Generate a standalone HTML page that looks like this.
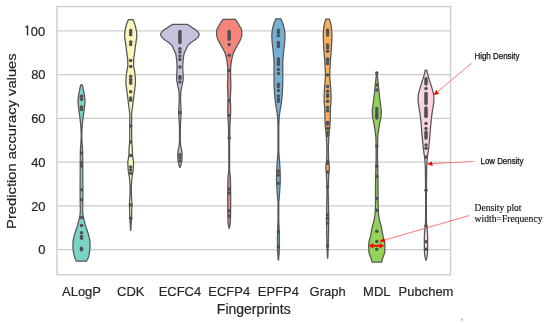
<!DOCTYPE html><html><head><meta charset="utf-8"><style>html,body{margin:0;padding:0;background:#fff;width:550px;height:324px;overflow:hidden}svg{display:block}</style></head><body>
<svg width="550" height="324" viewBox="0 0 550 324">
<rect x="0" y="0" width="550" height="324" fill="#fff"/>
<line x1="56.9" y1="249.60" x2="450.6" y2="249.60" stroke="#cccccc" stroke-width="1.3"/>
<line x1="56.9" y1="205.86" x2="450.6" y2="205.86" stroke="#cccccc" stroke-width="1.3"/>
<line x1="56.9" y1="162.12" x2="450.6" y2="162.12" stroke="#cccccc" stroke-width="1.3"/>
<line x1="56.9" y1="118.38" x2="450.6" y2="118.38" stroke="#cccccc" stroke-width="1.3"/>
<line x1="56.9" y1="74.64" x2="450.6" y2="74.64" stroke="#cccccc" stroke-width="1.3"/>
<line x1="56.9" y1="30.90" x2="450.6" y2="30.90" stroke="#cccccc" stroke-width="1.3"/>
<rect x="56.9" y="6.6" width="393.70" height="268.10" fill="none" stroke="#cccccc" stroke-width="1.4"/>
<path d="M82.28,84.80 L82.43,85.47 L82.58,86.13 L82.72,86.80 L82.86,87.46 L83.00,88.13 L83.14,88.79 L83.27,89.46 L83.40,90.13 L83.54,90.79 L83.67,91.46 L83.81,92.12 L83.94,92.79 L84.07,93.45 L84.19,94.12 L84.30,94.78 L84.40,95.45 L84.50,96.12 L84.59,96.78 L84.68,97.45 L84.77,98.11 L84.85,98.78 L84.91,99.44 L84.96,100.11 L84.98,100.78 L84.97,101.44 L84.95,102.11 L84.91,102.77 L84.86,103.44 L84.80,104.10 L84.74,104.77 L84.66,105.44 L84.59,106.10 L84.51,106.77 L84.44,107.43 L84.37,108.10 L84.30,108.76 L84.22,109.43 L84.14,110.10 L84.05,110.76 L83.96,111.43 L83.87,112.09 L83.77,112.76 L83.67,113.42 L83.58,114.09 L83.48,114.75 L83.39,115.42 L83.29,116.09 L83.21,116.75 L83.12,117.42 L83.04,118.08 L82.96,118.75 L82.89,119.41 L82.81,120.08 L82.74,120.75 L82.66,121.41 L82.59,122.08 L82.52,122.74 L82.45,123.41 L82.38,124.07 L82.32,124.74 L82.26,125.41 L82.21,126.07 L82.16,126.74 L82.11,127.40 L82.08,128.07 L82.04,128.73 L82.01,129.40 L81.98,130.06 L81.94,130.73 L81.91,131.40 L81.89,132.06 L81.87,132.73 L81.85,133.39 L81.84,134.06 L81.83,134.72 L81.83,135.39 L81.84,136.06 L81.85,136.72 L81.86,137.39 L81.88,138.05 L81.90,138.72 L81.93,139.38 L81.95,140.05 L81.98,140.72 L82.01,141.38 L82.04,142.05 L82.07,142.71 L82.10,143.38 L82.14,144.04 L82.19,144.71 L82.25,145.38 L82.31,146.04 L82.37,146.71 L82.43,147.37 L82.48,148.04 L82.53,148.70 L82.56,149.37 L82.58,150.03 L82.59,150.70 L82.61,151.37 L82.62,152.03 L82.63,152.70 L82.64,153.36 L82.65,154.03 L82.66,154.69 L82.67,155.36 L82.67,156.03 L82.68,156.69 L82.69,157.36 L82.70,158.02 L82.70,158.69 L82.71,159.35 L82.71,160.02 L82.72,160.69 L82.72,161.35 L82.73,162.02 L82.73,162.68 L82.74,163.35 L82.74,164.01 L82.75,164.68 L82.75,165.34 L82.75,166.01 L82.76,166.68 L82.76,167.34 L82.77,168.01 L82.77,168.67 L82.78,169.34 L82.78,170.00 L82.78,170.67 L82.79,171.34 L82.79,172.00 L82.80,172.67 L82.80,173.33 L82.81,174.00 L82.81,174.66 L82.82,175.33 L82.82,176.00 L82.83,176.66 L82.83,177.33 L82.83,177.99 L82.84,178.66 L82.84,179.32 L82.85,179.99 L82.85,180.66 L82.85,181.32 L82.86,181.99 L82.86,182.65 L82.86,183.32 L82.87,183.98 L82.87,184.65 L82.87,185.31 L82.87,185.98 L82.88,186.65 L82.88,187.31 L82.88,187.98 L82.88,188.64 L82.88,189.31 L82.88,189.97 L82.88,190.64 L82.88,191.31 L82.88,191.97 L82.88,192.64 L82.87,193.30 L82.87,193.97 L82.87,194.63 L82.86,195.30 L82.86,195.97 L82.85,196.63 L82.85,197.30 L82.85,197.96 L82.84,198.63 L82.84,199.29 L82.83,199.96 L82.82,200.62 L82.82,201.29 L82.81,201.96 L82.79,202.62 L82.78,203.29 L82.77,203.95 L82.75,204.62 L82.74,205.28 L82.73,205.95 L82.71,206.62 L82.70,207.28 L82.69,207.95 L82.69,208.61 L82.68,209.28 L82.68,209.94 L82.69,210.61 L82.71,211.28 L82.75,211.94 L82.80,212.61 L82.86,213.27 L82.93,213.94 L83.01,214.60 L83.09,215.27 L83.17,215.94 L83.27,216.60 L83.40,217.27 L83.56,217.93 L83.73,218.60 L83.91,219.26 L84.10,219.93 L84.28,220.59 L84.44,221.26 L84.61,221.93 L84.77,222.59 L84.94,223.26 L85.10,223.92 L85.28,224.59 L85.45,225.25 L85.64,225.92 L85.84,226.59 L86.05,227.25 L86.28,227.92 L86.53,228.58 L86.77,229.25 L87.01,229.91 L87.24,230.58 L87.46,231.25 L87.67,231.91 L87.87,232.58 L88.08,233.24 L88.27,233.91 L88.47,234.57 L88.65,235.24 L88.82,235.90 L88.97,236.57 L89.13,237.24 L89.28,237.90 L89.44,238.57 L89.59,239.23 L89.72,239.90 L89.84,240.56 L89.92,241.23 L89.98,241.90 L90.00,242.56 L90.03,243.23 L90.05,243.89 L90.06,244.56 L90.08,245.22 L90.08,245.89 L90.07,246.56 L90.04,247.22 L89.99,247.89 L89.93,248.55 L89.86,249.22 L89.79,249.88 L89.72,250.55 L89.64,251.22 L89.54,251.88 L89.43,252.55 L89.32,253.21 L89.19,253.88 L89.06,254.54 L88.91,255.21 L88.74,255.87 L88.56,256.54 L88.35,257.21 L88.12,257.87 L87.87,258.54 L87.58,259.20 L87.24,259.87 L86.88,260.53 L86.48,261.20 L76.52,261.20 L76.12,260.53 L75.76,259.87 L75.42,259.20 L75.13,258.54 L74.88,257.87 L74.65,257.21 L74.44,256.54 L74.26,255.87 L74.09,255.21 L73.94,254.54 L73.81,253.88 L73.68,253.21 L73.57,252.55 L73.46,251.88 L73.36,251.22 L73.28,250.55 L73.21,249.88 L73.14,249.22 L73.07,248.55 L73.01,247.89 L72.96,247.22 L72.93,246.56 L72.92,245.89 L72.92,245.22 L72.94,244.56 L72.95,243.89 L72.97,243.23 L73.00,242.56 L73.02,241.90 L73.08,241.23 L73.16,240.56 L73.28,239.90 L73.41,239.23 L73.56,238.57 L73.72,237.90 L73.87,237.24 L74.03,236.57 L74.18,235.90 L74.35,235.24 L74.53,234.57 L74.73,233.91 L74.92,233.24 L75.13,232.58 L75.33,231.91 L75.54,231.25 L75.76,230.58 L75.99,229.91 L76.23,229.25 L76.47,228.58 L76.72,227.92 L76.95,227.25 L77.16,226.59 L77.36,225.92 L77.55,225.25 L77.72,224.59 L77.90,223.92 L78.06,223.26 L78.23,222.59 L78.39,221.93 L78.56,221.26 L78.72,220.59 L78.90,219.93 L79.09,219.26 L79.27,218.60 L79.44,217.93 L79.60,217.27 L79.73,216.60 L79.83,215.94 L79.91,215.27 L79.99,214.60 L80.07,213.94 L80.14,213.27 L80.20,212.61 L80.25,211.94 L80.29,211.28 L80.31,210.61 L80.32,209.94 L80.32,209.28 L80.31,208.61 L80.31,207.95 L80.30,207.28 L80.29,206.62 L80.27,205.95 L80.26,205.28 L80.25,204.62 L80.23,203.95 L80.22,203.29 L80.21,202.62 L80.19,201.96 L80.18,201.29 L80.18,200.62 L80.17,199.96 L80.16,199.29 L80.16,198.63 L80.15,197.96 L80.15,197.30 L80.15,196.63 L80.14,195.97 L80.14,195.30 L80.13,194.63 L80.13,193.97 L80.13,193.30 L80.12,192.64 L80.12,191.97 L80.12,191.31 L80.12,190.64 L80.12,189.97 L80.12,189.31 L80.12,188.64 L80.12,187.98 L80.12,187.31 L80.12,186.65 L80.13,185.98 L80.13,185.31 L80.13,184.65 L80.13,183.98 L80.14,183.32 L80.14,182.65 L80.14,181.99 L80.15,181.32 L80.15,180.66 L80.15,179.99 L80.16,179.32 L80.16,178.66 L80.17,177.99 L80.17,177.33 L80.17,176.66 L80.18,176.00 L80.18,175.33 L80.19,174.66 L80.19,174.00 L80.20,173.33 L80.20,172.67 L80.21,172.00 L80.21,171.34 L80.22,170.67 L80.22,170.00 L80.22,169.34 L80.23,168.67 L80.23,168.01 L80.24,167.34 L80.24,166.68 L80.25,166.01 L80.25,165.34 L80.25,164.68 L80.26,164.01 L80.26,163.35 L80.27,162.68 L80.27,162.02 L80.28,161.35 L80.28,160.69 L80.29,160.02 L80.29,159.35 L80.30,158.69 L80.30,158.02 L80.31,157.36 L80.32,156.69 L80.33,156.03 L80.33,155.36 L80.34,154.69 L80.35,154.03 L80.36,153.36 L80.37,152.70 L80.38,152.03 L80.39,151.37 L80.41,150.70 L80.42,150.03 L80.44,149.37 L80.47,148.70 L80.52,148.04 L80.57,147.37 L80.63,146.71 L80.69,146.04 L80.75,145.38 L80.81,144.71 L80.86,144.04 L80.90,143.38 L80.93,142.71 L80.96,142.05 L80.99,141.38 L81.02,140.72 L81.05,140.05 L81.07,139.38 L81.10,138.72 L81.12,138.05 L81.14,137.39 L81.15,136.72 L81.16,136.06 L81.17,135.39 L81.17,134.72 L81.16,134.06 L81.15,133.39 L81.13,132.73 L81.11,132.06 L81.09,131.40 L81.06,130.73 L81.02,130.06 L80.99,129.40 L80.96,128.73 L80.92,128.07 L80.89,127.40 L80.84,126.74 L80.79,126.07 L80.74,125.41 L80.68,124.74 L80.62,124.07 L80.55,123.41 L80.48,122.74 L80.41,122.08 L80.34,121.41 L80.26,120.75 L80.19,120.08 L80.11,119.41 L80.04,118.75 L79.96,118.08 L79.88,117.42 L79.79,116.75 L79.71,116.09 L79.61,115.42 L79.52,114.75 L79.42,114.09 L79.33,113.42 L79.23,112.76 L79.13,112.09 L79.04,111.43 L78.95,110.76 L78.86,110.10 L78.78,109.43 L78.70,108.76 L78.63,108.10 L78.56,107.43 L78.49,106.77 L78.41,106.10 L78.34,105.44 L78.26,104.77 L78.20,104.10 L78.14,103.44 L78.09,102.77 L78.05,102.11 L78.03,101.44 L78.02,100.78 L78.04,100.11 L78.09,99.44 L78.15,98.78 L78.23,98.11 L78.32,97.45 L78.41,96.78 L78.50,96.12 L78.60,95.45 L78.70,94.78 L78.81,94.12 L78.93,93.45 L79.06,92.79 L79.19,92.12 L79.33,91.46 L79.46,90.79 L79.60,90.13 L79.73,89.46 L79.86,88.79 L80.00,88.13 L80.14,87.46 L80.28,86.80 L80.42,86.13 L80.57,85.47 L80.72,84.80 Z" fill="#7ad4c6" stroke="#555555" stroke-width="1.25" stroke-linejoin="round"/>
<circle cx="81.5" cy="96.20" r="1.75" fill="#505050"/>
<circle cx="81.5" cy="99.30" r="1.75" fill="#505050"/>
<circle cx="81.5" cy="107.00" r="1.75" fill="#505050"/>
<circle cx="81.5" cy="109.40" r="1.75" fill="#505050"/>
<circle cx="81.5" cy="153.00" r="1.75" fill="#505050"/>
<circle cx="81.5" cy="163.00" r="1.75" fill="#505050"/>
<circle cx="81.5" cy="166.00" r="1.75" fill="#505050"/>
<circle cx="81.5" cy="189.70" r="1.75" fill="#505050"/>
<circle cx="81.5" cy="199.70" r="1.75" fill="#505050"/>
<circle cx="81.5" cy="217.50" r="1.75" fill="#505050"/>
<circle cx="81.5" cy="225.50" r="1.75" fill="#505050"/>
<circle cx="81.5" cy="232.80" r="1.75" fill="#505050"/>
<circle cx="81.5" cy="236.60" r="1.75" fill="#505050"/>
<circle cx="81.5" cy="238.20" r="1.75" fill="#505050"/>
<circle cx="81.5" cy="248.20" r="1.75" fill="#505050"/>
<circle cx="81.5" cy="249.80" r="1.75" fill="#505050"/>
<path d="M132.98,19.60 L133.27,20.26 L133.56,20.93 L133.84,21.59 L134.11,22.26 L134.36,22.92 L134.60,23.59 L134.83,24.25 L135.04,24.92 L135.23,25.58 L135.41,26.25 L135.56,26.91 L135.70,27.58 L135.84,28.24 L135.98,28.91 L136.12,29.57 L136.25,30.23 L136.37,30.90 L136.48,31.56 L136.57,32.23 L136.65,32.89 L136.72,33.56 L136.76,34.22 L136.78,34.89 L136.78,35.55 L136.75,36.22 L136.71,36.88 L136.65,37.55 L136.58,38.21 L136.50,38.88 L136.41,39.54 L136.31,40.20 L136.21,40.87 L136.10,41.53 L135.99,42.20 L135.89,42.86 L135.78,43.53 L135.69,44.19 L135.60,44.86 L135.51,45.52 L135.43,46.19 L135.35,46.85 L135.26,47.52 L135.18,48.18 L135.09,48.85 L135.00,49.51 L134.92,50.17 L134.83,50.84 L134.75,51.50 L134.66,52.17 L134.58,52.83 L134.49,53.50 L134.40,54.16 L134.31,54.83 L134.21,55.49 L134.10,56.16 L134.00,56.82 L133.91,57.49 L133.83,58.15 L133.76,58.82 L133.70,59.48 L133.68,60.14 L133.65,60.81 L133.63,61.47 L133.62,62.14 L133.60,62.80 L133.59,63.47 L133.58,64.13 L133.58,64.80 L133.59,65.46 L133.64,66.13 L133.72,66.79 L133.83,67.46 L133.96,68.12 L134.09,68.79 L134.23,69.45 L134.37,70.11 L134.50,70.78 L134.61,71.44 L134.69,72.11 L134.77,72.77 L134.84,73.44 L134.92,74.10 L135.00,74.77 L135.07,75.43 L135.14,76.10 L135.21,76.76 L135.27,77.43 L135.33,78.09 L135.38,78.76 L135.42,79.42 L135.45,80.08 L135.47,80.75 L135.48,81.41 L135.48,82.08 L135.46,82.74 L135.42,83.41 L135.37,84.07 L135.32,84.74 L135.25,85.40 L135.17,86.07 L135.09,86.73 L135.00,87.40 L134.91,88.06 L134.82,88.73 L134.72,89.39 L134.63,90.05 L134.54,90.72 L134.45,91.38 L134.37,92.05 L134.30,92.71 L134.22,93.38 L134.14,94.04 L134.05,94.71 L133.97,95.37 L133.89,96.04 L133.80,96.70 L133.72,97.37 L133.63,98.03 L133.54,98.70 L133.46,99.36 L133.38,100.02 L133.29,100.69 L133.21,101.35 L133.12,102.02 L133.04,102.68 L132.95,103.35 L132.87,104.01 L132.79,104.68 L132.71,105.34 L132.63,106.01 L132.55,106.67 L132.46,107.34 L132.38,108.00 L132.28,108.67 L132.19,109.33 L132.09,109.99 L132.00,110.66 L131.92,111.32 L131.83,111.99 L131.76,112.65 L131.70,113.32 L131.64,113.98 L131.61,114.65 L131.59,115.31 L131.58,115.98 L131.58,116.64 L131.58,117.31 L131.58,117.97 L131.59,118.64 L131.59,119.30 L131.59,119.96 L131.60,120.63 L131.60,121.29 L131.60,121.96 L131.61,122.62 L131.61,123.29 L131.62,123.95 L131.62,124.62 L131.63,125.28 L131.63,125.95 L131.64,126.61 L131.64,127.28 L131.65,127.94 L131.65,128.61 L131.66,129.27 L131.66,129.94 L131.67,130.60 L131.67,131.26 L131.67,131.93 L131.68,132.59 L131.68,133.26 L131.68,133.92 L131.68,134.59 L131.68,135.25 L131.68,135.92 L131.68,136.58 L131.68,137.25 L131.68,137.91 L131.68,138.58 L131.68,139.24 L131.68,139.91 L131.69,140.57 L131.71,141.23 L131.75,141.90 L131.81,142.56 L131.87,143.23 L131.93,143.89 L132.00,144.56 L132.07,145.22 L132.14,145.89 L132.20,146.55 L132.25,147.22 L132.29,147.88 L132.32,148.55 L132.35,149.21 L132.37,149.88 L132.39,150.54 L132.41,151.20 L132.43,151.87 L132.45,152.53 L132.48,153.20 L132.50,153.86 L132.53,154.53 L132.57,155.19 L132.61,155.86 L132.69,156.52 L132.78,157.19 L132.89,157.85 L133.01,158.52 L133.13,159.18 L133.25,159.85 L133.36,160.51 L133.45,161.17 L133.53,161.84 L133.57,162.50 L133.58,163.17 L133.57,163.83 L133.55,164.50 L133.53,165.16 L133.49,165.83 L133.45,166.49 L133.40,167.16 L133.35,167.82 L133.30,168.49 L133.24,169.15 L133.18,169.82 L133.12,170.48 L133.06,171.14 L132.98,171.81 L132.88,172.47 L132.77,173.14 L132.65,173.80 L132.53,174.47 L132.40,175.13 L132.27,175.80 L132.16,176.46 L132.05,177.13 L131.96,177.79 L131.89,178.46 L131.84,179.12 L131.78,179.79 L131.73,180.45 L131.68,181.11 L131.63,181.78 L131.58,182.44 L131.54,183.11 L131.50,183.77 L131.46,184.44 L131.42,185.10 L131.39,185.77 L131.36,186.43 L131.33,187.10 L131.31,187.76 L131.30,188.43 L131.29,189.09 L131.28,189.76 L131.28,190.42 L131.29,191.08 L131.30,191.75 L131.32,192.41 L131.34,193.08 L131.37,193.74 L131.40,194.41 L131.43,195.07 L131.47,195.74 L131.50,196.40 L131.53,197.07 L131.57,197.73 L131.60,198.40 L131.64,199.06 L131.69,199.73 L131.75,200.39 L131.80,201.05 L131.86,201.72 L131.90,202.38 L131.94,203.05 L131.97,203.71 L131.98,204.38 L131.98,205.04 L131.96,205.71 L131.94,206.37 L131.91,207.04 L131.88,207.70 L131.85,208.37 L131.81,209.03 L131.77,209.70 L131.74,210.36 L131.71,211.02 L131.69,211.69 L131.67,212.35 L131.66,213.02 L131.65,213.68 L131.64,214.35 L131.63,215.01 L131.62,215.68 L131.61,216.34 L131.60,217.01 L131.59,217.67 L131.57,218.34 L131.54,219.00 L131.50,219.67 L131.45,220.33 L131.39,220.99 L131.34,221.66 L131.28,222.32 L131.22,222.99 L131.17,223.65 L131.12,224.32 L131.08,224.98 L131.05,225.65 L131.02,226.31 L130.99,226.98 L130.96,227.64 L130.94,228.31 L130.92,228.97 L130.90,229.64 L130.88,230.30 L130.52,230.30 L130.50,229.64 L130.48,228.97 L130.46,228.31 L130.44,227.64 L130.41,226.98 L130.38,226.31 L130.35,225.65 L130.32,224.98 L130.28,224.32 L130.23,223.65 L130.18,222.99 L130.12,222.32 L130.06,221.66 L130.01,220.99 L129.95,220.33 L129.90,219.67 L129.86,219.00 L129.83,218.34 L129.81,217.67 L129.80,217.01 L129.79,216.34 L129.78,215.68 L129.77,215.01 L129.76,214.35 L129.75,213.68 L129.74,213.02 L129.73,212.35 L129.71,211.69 L129.69,211.02 L129.66,210.36 L129.63,209.70 L129.59,209.03 L129.55,208.37 L129.52,207.70 L129.49,207.04 L129.46,206.37 L129.44,205.71 L129.42,205.04 L129.42,204.38 L129.43,203.71 L129.46,203.05 L129.50,202.38 L129.54,201.72 L129.60,201.05 L129.65,200.39 L129.71,199.73 L129.76,199.06 L129.80,198.40 L129.83,197.73 L129.87,197.07 L129.90,196.40 L129.93,195.74 L129.97,195.07 L130.00,194.41 L130.03,193.74 L130.06,193.08 L130.08,192.41 L130.10,191.75 L130.11,191.08 L130.12,190.42 L130.12,189.76 L130.11,189.09 L130.10,188.43 L130.09,187.76 L130.07,187.10 L130.04,186.43 L130.01,185.77 L129.98,185.10 L129.94,184.44 L129.90,183.77 L129.86,183.11 L129.82,182.44 L129.77,181.78 L129.72,181.11 L129.67,180.45 L129.62,179.79 L129.56,179.12 L129.51,178.46 L129.44,177.79 L129.35,177.13 L129.24,176.46 L129.13,175.80 L129.00,175.13 L128.87,174.47 L128.75,173.80 L128.63,173.14 L128.52,172.47 L128.42,171.81 L128.34,171.14 L128.28,170.48 L128.22,169.82 L128.16,169.15 L128.10,168.49 L128.05,167.82 L128.00,167.16 L127.95,166.49 L127.91,165.83 L127.87,165.16 L127.85,164.50 L127.83,163.83 L127.82,163.17 L127.83,162.50 L127.87,161.84 L127.95,161.17 L128.04,160.51 L128.15,159.85 L128.27,159.18 L128.39,158.52 L128.51,157.85 L128.62,157.19 L128.71,156.52 L128.79,155.86 L128.83,155.19 L128.87,154.53 L128.90,153.86 L128.92,153.20 L128.95,152.53 L128.97,151.87 L128.99,151.20 L129.01,150.54 L129.03,149.88 L129.05,149.21 L129.08,148.55 L129.11,147.88 L129.15,147.22 L129.20,146.55 L129.26,145.89 L129.33,145.22 L129.40,144.56 L129.47,143.89 L129.53,143.23 L129.59,142.56 L129.65,141.90 L129.69,141.23 L129.71,140.57 L129.72,139.91 L129.72,139.24 L129.72,138.58 L129.72,137.91 L129.72,137.25 L129.72,136.58 L129.72,135.92 L129.72,135.25 L129.72,134.59 L129.72,133.92 L129.72,133.26 L129.72,132.59 L129.73,131.93 L129.73,131.26 L129.73,130.60 L129.74,129.94 L129.74,129.27 L129.75,128.61 L129.75,127.94 L129.76,127.28 L129.76,126.61 L129.77,125.95 L129.77,125.28 L129.78,124.62 L129.78,123.95 L129.79,123.29 L129.79,122.62 L129.80,121.96 L129.80,121.29 L129.80,120.63 L129.81,119.96 L129.81,119.30 L129.81,118.64 L129.82,117.97 L129.82,117.31 L129.82,116.64 L129.82,115.98 L129.81,115.31 L129.79,114.65 L129.76,113.98 L129.70,113.32 L129.64,112.65 L129.57,111.99 L129.48,111.32 L129.40,110.66 L129.31,109.99 L129.21,109.33 L129.12,108.67 L129.02,108.00 L128.94,107.34 L128.85,106.67 L128.77,106.01 L128.69,105.34 L128.61,104.68 L128.53,104.01 L128.45,103.35 L128.36,102.68 L128.28,102.02 L128.19,101.35 L128.11,100.69 L128.02,100.02 L127.94,99.36 L127.86,98.70 L127.77,98.03 L127.68,97.37 L127.60,96.70 L127.51,96.04 L127.43,95.37 L127.35,94.71 L127.26,94.04 L127.18,93.38 L127.10,92.71 L127.03,92.05 L126.95,91.38 L126.86,90.72 L126.77,90.05 L126.68,89.39 L126.58,88.73 L126.49,88.06 L126.40,87.40 L126.31,86.73 L126.23,86.07 L126.15,85.40 L126.08,84.74 L126.03,84.07 L125.98,83.41 L125.94,82.74 L125.92,82.08 L125.92,81.41 L125.93,80.75 L125.95,80.08 L125.98,79.42 L126.02,78.76 L126.07,78.09 L126.13,77.43 L126.19,76.76 L126.26,76.10 L126.33,75.43 L126.40,74.77 L126.48,74.10 L126.56,73.44 L126.63,72.77 L126.71,72.11 L126.79,71.44 L126.90,70.78 L127.03,70.11 L127.17,69.45 L127.31,68.79 L127.44,68.12 L127.57,67.46 L127.68,66.79 L127.76,66.13 L127.81,65.46 L127.82,64.80 L127.82,64.13 L127.81,63.47 L127.80,62.80 L127.78,62.14 L127.77,61.47 L127.75,60.81 L127.72,60.14 L127.70,59.48 L127.64,58.82 L127.57,58.15 L127.49,57.49 L127.40,56.82 L127.30,56.16 L127.19,55.49 L127.09,54.83 L127.00,54.16 L126.91,53.50 L126.82,52.83 L126.74,52.17 L126.65,51.50 L126.57,50.84 L126.48,50.17 L126.40,49.51 L126.31,48.85 L126.22,48.18 L126.14,47.52 L126.05,46.85 L125.97,46.19 L125.89,45.52 L125.80,44.86 L125.71,44.19 L125.62,43.53 L125.51,42.86 L125.41,42.20 L125.30,41.53 L125.19,40.87 L125.09,40.20 L124.99,39.54 L124.90,38.88 L124.82,38.21 L124.75,37.55 L124.69,36.88 L124.65,36.22 L124.62,35.55 L124.62,34.89 L124.64,34.22 L124.68,33.56 L124.75,32.89 L124.83,32.23 L124.92,31.56 L125.03,30.90 L125.15,30.23 L125.28,29.57 L125.42,28.91 L125.56,28.24 L125.70,27.58 L125.84,26.91 L125.99,26.25 L126.17,25.58 L126.36,24.92 L126.57,24.25 L126.80,23.59 L127.04,22.92 L127.29,22.26 L127.56,21.59 L127.84,20.93 L128.13,20.26 L128.42,19.60 Z" fill="#f8f6b8" stroke="#555555" stroke-width="1.25" stroke-linejoin="round"/>
<circle cx="130.7" cy="30.50" r="1.75" fill="#505050"/>
<circle cx="130.7" cy="32.50" r="1.75" fill="#505050"/>
<circle cx="130.7" cy="34.80" r="1.75" fill="#505050"/>
<circle cx="130.7" cy="42.00" r="1.75" fill="#505050"/>
<circle cx="130.7" cy="44.40" r="1.75" fill="#505050"/>
<circle cx="130.7" cy="60.60" r="1.75" fill="#505050"/>
<circle cx="130.7" cy="66.50" r="1.75" fill="#505050"/>
<circle cx="130.7" cy="76.20" r="1.75" fill="#505050"/>
<circle cx="130.7" cy="79.30" r="1.75" fill="#505050"/>
<circle cx="130.7" cy="81.00" r="1.75" fill="#505050"/>
<circle cx="130.7" cy="83.20" r="1.75" fill="#505050"/>
<circle cx="130.7" cy="91.70" r="1.75" fill="#505050"/>
<circle cx="130.7" cy="97.90" r="1.75" fill="#505050"/>
<circle cx="130.7" cy="100.20" r="1.75" fill="#505050"/>
<circle cx="130.7" cy="126.00" r="1.75" fill="#505050"/>
<circle cx="130.7" cy="141.90" r="1.75" fill="#505050"/>
<circle cx="130.7" cy="155.40" r="1.75" fill="#505050"/>
<circle cx="130.7" cy="167.00" r="1.75" fill="#505050"/>
<circle cx="130.7" cy="170.00" r="1.75" fill="#505050"/>
<circle cx="130.7" cy="173.20" r="1.75" fill="#505050"/>
<circle cx="130.7" cy="205.00" r="1.75" fill="#505050"/>
<circle cx="130.7" cy="218.20" r="1.75" fill="#505050"/>
<path d="M187.38,24.40 L188.40,25.06 L189.40,25.73 L190.40,26.39 L191.39,27.06 L192.37,27.72 L193.37,28.39 L194.43,29.05 L195.48,29.72 L196.41,30.38 L197.12,31.05 L197.72,31.71 L198.29,32.38 L198.76,33.04 L199.08,33.71 L199.18,34.37 L199.07,35.03 L198.81,35.70 L198.45,36.36 L198.06,37.03 L197.55,37.69 L196.85,38.36 L196.04,39.02 L195.18,39.69 L194.30,40.35 L193.29,41.02 L192.22,41.68 L191.23,42.35 L190.42,43.01 L189.66,43.67 L188.96,44.34 L188.33,45.00 L187.80,45.67 L187.39,46.33 L187.05,47.00 L186.76,47.66 L186.49,48.33 L186.23,48.99 L185.96,49.66 L185.65,50.32 L185.32,50.99 L184.99,51.65 L184.68,52.32 L184.40,52.98 L184.16,53.64 L183.98,54.31 L183.84,54.97 L183.72,55.64 L183.61,56.30 L183.51,56.97 L183.42,57.63 L183.34,58.30 L183.27,58.96 L183.21,59.63 L183.16,60.29 L183.10,60.96 L183.05,61.62 L183.00,62.29 L182.96,62.95 L182.91,63.61 L182.87,64.28 L182.84,64.94 L182.81,65.61 L182.79,66.27 L182.78,66.94 L182.78,67.60 L182.79,68.27 L182.80,68.93 L182.82,69.60 L182.85,70.26 L182.88,70.93 L182.91,71.59 L182.95,72.25 L182.99,72.92 L183.02,73.58 L183.06,74.25 L183.09,74.91 L183.12,75.58 L183.15,76.24 L183.16,76.91 L183.18,77.57 L183.18,78.24 L183.16,78.90 L183.11,79.57 L183.04,80.23 L182.95,80.90 L182.84,81.56 L182.71,82.22 L182.58,82.89 L182.44,83.55 L182.30,84.22 L182.17,84.88 L182.04,85.55 L181.92,86.21 L181.79,86.88 L181.63,87.54 L181.47,88.21 L181.31,88.87 L181.16,89.54 L181.02,90.20 L180.91,90.87 L180.82,91.53 L180.78,92.19 L180.75,92.86 L180.72,93.52 L180.69,94.19 L180.67,94.85 L180.65,95.52 L180.63,96.18 L180.62,96.85 L180.60,97.51 L180.59,98.18 L180.58,98.84 L180.58,99.51 L180.58,100.17 L180.59,100.83 L180.62,101.50 L180.65,102.16 L180.69,102.83 L180.73,103.49 L180.78,104.16 L180.82,104.82 L180.86,105.49 L180.89,106.15 L180.91,106.82 L180.94,107.48 L180.97,108.15 L181.00,108.81 L181.02,109.48 L181.04,110.14 L181.06,110.80 L181.07,111.47 L181.08,112.13 L181.08,112.80 L181.07,113.46 L181.05,114.13 L181.02,114.79 L180.98,115.46 L180.95,116.12 L180.91,116.79 L180.87,117.45 L180.83,118.12 L180.79,118.78 L180.76,119.45 L180.72,120.11 L180.67,120.77 L180.62,121.44 L180.58,122.10 L180.53,122.77 L180.49,123.43 L180.45,124.10 L180.42,124.76 L180.39,125.43 L180.38,126.09 L180.37,126.76 L180.36,127.42 L180.35,128.09 L180.35,128.75 L180.34,129.41 L180.33,130.08 L180.32,130.74 L180.32,131.41 L180.31,132.07 L180.31,132.74 L180.30,133.40 L180.30,134.07 L180.29,134.73 L180.29,135.40 L180.29,136.06 L180.29,136.73 L180.28,137.39 L180.28,138.06 L180.28,138.72 L180.28,139.38 L180.28,140.05 L180.29,140.71 L180.31,141.38 L180.34,142.04 L180.39,142.71 L180.44,143.37 L180.49,144.04 L180.55,144.70 L180.62,145.37 L180.73,146.03 L180.86,146.70 L181.02,147.36 L181.18,148.03 L181.34,148.69 L181.48,149.35 L181.58,150.02 L181.67,150.68 L181.77,151.35 L181.85,152.01 L181.93,152.68 L182.00,153.34 L182.05,154.01 L182.08,154.67 L182.08,155.34 L182.07,156.00 L182.05,156.67 L182.03,157.33 L182.00,157.99 L181.96,158.66 L181.92,159.32 L181.88,159.99 L181.81,160.65 L181.71,161.32 L181.57,161.98 L181.42,162.65 L181.25,163.31 L181.09,163.98 L180.92,164.64 L180.73,165.31 L180.52,165.97 L180.31,166.64 L180.08,167.30 L179.72,167.30 L179.49,166.64 L179.28,165.97 L179.07,165.31 L178.88,164.64 L178.71,163.98 L178.55,163.31 L178.38,162.65 L178.23,161.98 L178.09,161.32 L177.99,160.65 L177.92,159.99 L177.88,159.32 L177.84,158.66 L177.80,157.99 L177.77,157.33 L177.75,156.67 L177.73,156.00 L177.72,155.34 L177.72,154.67 L177.75,154.01 L177.80,153.34 L177.87,152.68 L177.95,152.01 L178.03,151.35 L178.13,150.68 L178.22,150.02 L178.32,149.35 L178.46,148.69 L178.62,148.03 L178.78,147.36 L178.94,146.70 L179.07,146.03 L179.18,145.37 L179.25,144.70 L179.31,144.04 L179.36,143.37 L179.41,142.71 L179.46,142.04 L179.49,141.38 L179.51,140.71 L179.52,140.05 L179.52,139.38 L179.52,138.72 L179.52,138.06 L179.52,137.39 L179.51,136.73 L179.51,136.06 L179.51,135.40 L179.51,134.73 L179.50,134.07 L179.50,133.40 L179.49,132.74 L179.49,132.07 L179.48,131.41 L179.48,130.74 L179.47,130.08 L179.46,129.41 L179.45,128.75 L179.45,128.09 L179.44,127.42 L179.43,126.76 L179.42,126.09 L179.41,125.43 L179.38,124.76 L179.35,124.10 L179.31,123.43 L179.27,122.77 L179.22,122.10 L179.18,121.44 L179.13,120.77 L179.08,120.11 L179.04,119.45 L179.01,118.78 L178.97,118.12 L178.93,117.45 L178.89,116.79 L178.85,116.12 L178.82,115.46 L178.78,114.79 L178.75,114.13 L178.73,113.46 L178.72,112.80 L178.72,112.13 L178.73,111.47 L178.74,110.80 L178.76,110.14 L178.78,109.48 L178.80,108.81 L178.83,108.15 L178.86,107.48 L178.89,106.82 L178.91,106.15 L178.94,105.49 L178.98,104.82 L179.02,104.16 L179.07,103.49 L179.11,102.83 L179.15,102.16 L179.18,101.50 L179.21,100.83 L179.22,100.17 L179.22,99.51 L179.22,98.84 L179.21,98.18 L179.20,97.51 L179.18,96.85 L179.17,96.18 L179.15,95.52 L179.13,94.85 L179.11,94.19 L179.08,93.52 L179.05,92.86 L179.02,92.19 L178.98,91.53 L178.89,90.87 L178.78,90.20 L178.64,89.54 L178.49,88.87 L178.33,88.21 L178.17,87.54 L178.01,86.88 L177.88,86.21 L177.76,85.55 L177.63,84.88 L177.50,84.22 L177.36,83.55 L177.22,82.89 L177.09,82.22 L176.96,81.56 L176.85,80.90 L176.76,80.23 L176.69,79.57 L176.64,78.90 L176.62,78.24 L176.62,77.57 L176.64,76.91 L176.65,76.24 L176.68,75.58 L176.71,74.91 L176.74,74.25 L176.78,73.58 L176.81,72.92 L176.85,72.25 L176.89,71.59 L176.92,70.93 L176.95,70.26 L176.98,69.60 L177.00,68.93 L177.01,68.27 L177.02,67.60 L177.02,66.94 L177.01,66.27 L176.99,65.61 L176.96,64.94 L176.93,64.28 L176.89,63.61 L176.84,62.95 L176.80,62.29 L176.75,61.62 L176.70,60.96 L176.64,60.29 L176.59,59.63 L176.53,58.96 L176.46,58.30 L176.38,57.63 L176.29,56.97 L176.19,56.30 L176.08,55.64 L175.96,54.97 L175.82,54.31 L175.64,53.64 L175.40,52.98 L175.12,52.32 L174.81,51.65 L174.48,50.99 L174.15,50.32 L173.84,49.66 L173.57,48.99 L173.31,48.33 L173.04,47.66 L172.75,47.00 L172.41,46.33 L172.00,45.67 L171.47,45.00 L170.84,44.34 L170.14,43.67 L169.38,43.01 L168.57,42.35 L167.58,41.68 L166.51,41.02 L165.50,40.35 L164.62,39.69 L163.76,39.02 L162.95,38.36 L162.25,37.69 L161.74,37.03 L161.35,36.36 L160.99,35.70 L160.73,35.03 L160.62,34.37 L160.72,33.71 L161.04,33.04 L161.51,32.38 L162.08,31.71 L162.68,31.05 L163.39,30.38 L164.32,29.72 L165.37,29.05 L166.43,28.39 L167.43,27.72 L168.41,27.06 L169.40,26.39 L170.40,25.73 L171.40,25.06 L172.42,24.40 Z" fill="#c6c2e0" stroke="#555555" stroke-width="1.25" stroke-linejoin="round"/>
<circle cx="179.9" cy="31.60" r="1.75" fill="#505050"/>
<circle cx="179.9" cy="33.16" r="1.75" fill="#505050"/>
<circle cx="179.9" cy="34.71" r="1.75" fill="#505050"/>
<circle cx="179.9" cy="36.27" r="1.75" fill="#505050"/>
<circle cx="179.9" cy="37.83" r="1.75" fill="#505050"/>
<circle cx="179.9" cy="39.39" r="1.75" fill="#505050"/>
<circle cx="179.9" cy="40.94" r="1.75" fill="#505050"/>
<circle cx="179.9" cy="42.50" r="1.75" fill="#505050"/>
<circle cx="179.9" cy="48.80" r="1.75" fill="#505050"/>
<circle cx="179.9" cy="52.00" r="1.75" fill="#505050"/>
<circle cx="179.9" cy="55.90" r="1.75" fill="#505050"/>
<circle cx="179.9" cy="59.40" r="1.75" fill="#505050"/>
<circle cx="179.9" cy="66.90" r="1.75" fill="#505050"/>
<circle cx="179.9" cy="76.60" r="1.75" fill="#505050"/>
<circle cx="179.9" cy="78.20" r="1.75" fill="#505050"/>
<circle cx="179.9" cy="82.00" r="1.75" fill="#505050"/>
<circle cx="179.9" cy="112.40" r="1.75" fill="#505050"/>
<circle cx="179.9" cy="154.80" r="1.75" fill="#505050"/>
<circle cx="179.9" cy="157.80" r="1.75" fill="#505050"/>
<circle cx="179.9" cy="160.90" r="1.75" fill="#505050"/>
<path d="M235.38,19.40 L235.85,20.06 L236.32,20.73 L236.77,21.39 L237.21,22.06 L237.63,22.72 L238.05,23.39 L238.46,24.05 L238.85,24.72 L239.23,25.38 L239.61,26.05 L240.00,26.71 L240.41,27.38 L240.81,28.04 L241.16,28.71 L241.43,29.37 L241.59,30.04 L241.67,30.70 L241.75,31.37 L241.81,32.03 L241.86,32.70 L241.88,33.36 L241.87,34.03 L241.81,34.69 L241.71,35.36 L241.57,36.02 L241.42,36.69 L241.25,37.35 L241.08,38.02 L240.87,38.68 L240.62,39.35 L240.32,40.01 L239.98,40.68 L239.63,41.34 L239.25,42.01 L238.87,42.67 L238.50,43.34 L238.14,44.00 L237.79,44.67 L237.45,45.33 L237.08,46.00 L236.71,46.66 L236.33,47.33 L235.95,47.99 L235.57,48.66 L235.19,49.32 L234.83,49.99 L234.47,50.65 L234.14,51.32 L233.84,51.98 L233.56,52.65 L233.31,53.31 L233.09,53.98 L232.89,54.64 L232.70,55.31 L232.52,55.97 L232.35,56.64 L232.19,57.30 L232.04,57.97 L231.90,58.63 L231.76,59.30 L231.63,59.96 L231.51,60.63 L231.39,61.29 L231.29,61.96 L231.18,62.62 L231.08,63.29 L230.98,63.95 L230.89,64.62 L230.83,65.28 L230.78,65.95 L230.76,66.61 L230.73,67.28 L230.71,67.94 L230.68,68.61 L230.66,69.27 L230.65,69.94 L230.63,70.60 L230.62,71.27 L230.61,71.93 L230.60,72.60 L230.59,73.26 L230.58,73.93 L230.58,74.59 L230.58,75.26 L230.59,75.92 L230.60,76.59 L230.62,77.25 L230.64,77.92 L230.66,78.58 L230.69,79.25 L230.72,79.91 L230.74,80.58 L230.77,81.24 L230.80,81.91 L230.82,82.57 L230.84,83.24 L230.86,83.90 L230.87,84.57 L230.88,85.23 L230.88,85.90 L230.87,86.56 L230.85,87.23 L230.83,87.89 L230.80,88.56 L230.76,89.22 L230.73,89.89 L230.69,90.55 L230.66,91.22 L230.63,91.88 L230.60,92.55 L230.57,93.21 L230.55,93.88 L230.52,94.54 L230.49,95.21 L230.46,95.87 L230.44,96.54 L230.42,97.20 L230.40,97.87 L230.39,98.53 L230.38,99.20 L230.38,99.86 L230.40,100.53 L230.42,101.19 L230.45,101.86 L230.48,102.52 L230.51,103.19 L230.54,103.85 L230.57,104.52 L230.58,105.18 L230.60,105.85 L230.62,106.51 L230.63,107.18 L230.65,107.84 L230.66,108.51 L230.67,109.17 L230.68,109.84 L230.68,110.50 L230.68,111.17 L230.66,111.83 L230.65,112.50 L230.62,113.16 L230.59,113.83 L230.56,114.49 L230.53,115.16 L230.49,115.82 L230.46,116.49 L230.42,117.15 L230.39,117.82 L230.36,118.48 L230.32,119.15 L230.28,119.81 L230.24,120.48 L230.19,121.14 L230.15,121.81 L230.10,122.47 L230.06,123.14 L230.02,123.80 L229.98,124.46 L229.95,125.13 L229.92,125.79 L229.89,126.46 L229.88,127.12 L229.87,127.79 L229.85,128.45 L229.85,129.12 L229.84,129.78 L229.83,130.45 L229.82,131.11 L229.82,131.78 L229.81,132.44 L229.80,133.11 L229.80,133.77 L229.79,134.44 L229.78,135.10 L229.77,135.77 L229.75,136.43 L229.74,137.10 L229.72,137.76 L229.70,138.43 L229.69,139.09 L229.67,139.76 L229.65,140.42 L229.63,141.09 L229.62,141.75 L229.61,142.42 L229.59,143.08 L229.59,143.75 L229.58,144.41 L229.58,145.08 L229.58,145.74 L229.58,146.41 L229.58,147.07 L229.58,147.74 L229.58,148.40 L229.58,149.07 L229.58,149.73 L229.58,150.40 L229.58,151.06 L229.58,151.73 L229.58,152.39 L229.58,153.06 L229.58,153.72 L229.58,154.39 L229.58,155.05 L229.58,155.72 L229.58,156.38 L229.58,157.05 L229.58,157.71 L229.58,158.38 L229.58,159.04 L229.58,159.71 L229.58,160.37 L229.58,161.04 L229.58,161.70 L229.58,162.37 L229.58,163.03 L229.58,163.70 L229.58,164.36 L229.58,165.03 L229.58,165.69 L229.58,166.36 L229.58,167.02 L229.58,167.69 L229.58,168.35 L229.58,169.02 L229.58,169.68 L229.59,170.35 L229.63,171.01 L229.70,171.68 L229.79,172.34 L229.89,173.01 L230.00,173.67 L230.10,174.34 L230.19,175.00 L230.26,175.67 L230.30,176.33 L230.33,177.00 L230.36,177.66 L230.39,178.33 L230.42,178.99 L230.45,179.66 L230.47,180.32 L230.49,180.99 L230.51,181.65 L230.53,182.32 L230.55,182.98 L230.56,183.65 L230.57,184.31 L230.58,184.98 L230.59,185.64 L230.59,186.31 L230.60,186.97 L230.61,187.64 L230.62,188.30 L230.62,188.97 L230.63,189.63 L230.63,190.30 L230.64,190.96 L230.65,191.63 L230.65,192.29 L230.66,192.96 L230.66,193.62 L230.66,194.29 L230.67,194.95 L230.67,195.62 L230.67,196.28 L230.68,196.95 L230.68,197.61 L230.68,198.28 L230.68,198.94 L230.68,199.61 L230.68,200.27 L230.68,200.94 L230.68,201.60 L230.68,202.27 L230.68,202.93 L230.67,203.60 L230.67,204.26 L230.67,204.93 L230.66,205.59 L230.66,206.26 L230.66,206.92 L230.65,207.59 L230.65,208.25 L230.64,208.92 L230.64,209.58 L230.63,210.25 L230.62,210.91 L230.62,211.58 L230.61,212.24 L230.60,212.91 L230.60,213.57 L230.59,214.24 L230.58,214.90 L230.57,215.57 L230.56,216.23 L230.55,216.90 L230.54,217.56 L230.52,218.23 L230.50,218.89 L230.48,219.56 L230.46,220.22 L230.43,220.89 L230.40,221.55 L230.37,222.22 L230.30,222.88 L230.21,223.55 L230.10,224.21 L229.98,224.88 L229.86,225.54 L229.75,226.21 L229.63,226.87 L229.51,227.54 L229.38,228.20 L229.02,228.20 L228.89,227.54 L228.77,226.87 L228.65,226.21 L228.54,225.54 L228.42,224.88 L228.30,224.21 L228.19,223.55 L228.10,222.88 L228.03,222.22 L228.00,221.55 L227.97,220.89 L227.94,220.22 L227.92,219.56 L227.90,218.89 L227.88,218.23 L227.86,217.56 L227.85,216.90 L227.84,216.23 L227.83,215.57 L227.82,214.90 L227.81,214.24 L227.80,213.57 L227.80,212.91 L227.79,212.24 L227.78,211.58 L227.78,210.91 L227.77,210.25 L227.76,209.58 L227.76,208.92 L227.75,208.25 L227.75,207.59 L227.74,206.92 L227.74,206.26 L227.74,205.59 L227.73,204.93 L227.73,204.26 L227.73,203.60 L227.72,202.93 L227.72,202.27 L227.72,201.60 L227.72,200.94 L227.72,200.27 L227.72,199.61 L227.72,198.94 L227.72,198.28 L227.72,197.61 L227.72,196.95 L227.73,196.28 L227.73,195.62 L227.73,194.95 L227.74,194.29 L227.74,193.62 L227.74,192.96 L227.75,192.29 L227.75,191.63 L227.76,190.96 L227.77,190.30 L227.77,189.63 L227.78,188.97 L227.78,188.30 L227.79,187.64 L227.80,186.97 L227.81,186.31 L227.81,185.64 L227.82,184.98 L227.83,184.31 L227.84,183.65 L227.85,182.98 L227.87,182.32 L227.89,181.65 L227.91,180.99 L227.93,180.32 L227.95,179.66 L227.98,178.99 L228.01,178.33 L228.04,177.66 L228.07,177.00 L228.10,176.33 L228.14,175.67 L228.21,175.00 L228.30,174.34 L228.40,173.67 L228.51,173.01 L228.61,172.34 L228.70,171.68 L228.77,171.01 L228.81,170.35 L228.82,169.68 L228.82,169.02 L228.82,168.35 L228.82,167.69 L228.82,167.02 L228.82,166.36 L228.82,165.69 L228.82,165.03 L228.82,164.36 L228.82,163.70 L228.82,163.03 L228.82,162.37 L228.82,161.70 L228.82,161.04 L228.82,160.37 L228.82,159.71 L228.82,159.04 L228.82,158.38 L228.82,157.71 L228.82,157.05 L228.82,156.38 L228.82,155.72 L228.82,155.05 L228.82,154.39 L228.82,153.72 L228.82,153.06 L228.82,152.39 L228.82,151.73 L228.82,151.06 L228.82,150.40 L228.82,149.73 L228.82,149.07 L228.82,148.40 L228.82,147.74 L228.82,147.07 L228.82,146.41 L228.82,145.74 L228.82,145.08 L228.82,144.41 L228.81,143.75 L228.81,143.08 L228.79,142.42 L228.78,141.75 L228.77,141.09 L228.75,140.42 L228.73,139.76 L228.71,139.09 L228.70,138.43 L228.68,137.76 L228.66,137.10 L228.65,136.43 L228.63,135.77 L228.62,135.10 L228.61,134.44 L228.60,133.77 L228.60,133.11 L228.59,132.44 L228.58,131.78 L228.58,131.11 L228.57,130.45 L228.56,129.78 L228.55,129.12 L228.55,128.45 L228.53,127.79 L228.52,127.12 L228.51,126.46 L228.48,125.79 L228.45,125.13 L228.42,124.46 L228.38,123.80 L228.34,123.14 L228.30,122.47 L228.25,121.81 L228.21,121.14 L228.16,120.48 L228.12,119.81 L228.08,119.15 L228.04,118.48 L228.01,117.82 L227.98,117.15 L227.94,116.49 L227.91,115.82 L227.87,115.16 L227.84,114.49 L227.81,113.83 L227.78,113.16 L227.75,112.50 L227.74,111.83 L227.72,111.17 L227.72,110.50 L227.72,109.84 L227.73,109.17 L227.74,108.51 L227.75,107.84 L227.77,107.18 L227.78,106.51 L227.80,105.85 L227.82,105.18 L227.83,104.52 L227.86,103.85 L227.89,103.19 L227.92,102.52 L227.95,101.86 L227.98,101.19 L228.00,100.53 L228.02,99.86 L228.02,99.20 L228.01,98.53 L228.00,97.87 L227.98,97.20 L227.96,96.54 L227.94,95.87 L227.91,95.21 L227.88,94.54 L227.85,93.88 L227.83,93.21 L227.80,92.55 L227.77,91.88 L227.74,91.22 L227.71,90.55 L227.67,89.89 L227.64,89.22 L227.60,88.56 L227.57,87.89 L227.55,87.23 L227.53,86.56 L227.52,85.90 L227.52,85.23 L227.53,84.57 L227.54,83.90 L227.56,83.24 L227.58,82.57 L227.60,81.91 L227.63,81.24 L227.66,80.58 L227.68,79.91 L227.71,79.25 L227.74,78.58 L227.76,77.92 L227.78,77.25 L227.80,76.59 L227.81,75.92 L227.82,75.26 L227.82,74.59 L227.82,73.93 L227.81,73.26 L227.80,72.60 L227.79,71.93 L227.78,71.27 L227.77,70.60 L227.75,69.94 L227.74,69.27 L227.72,68.61 L227.69,67.94 L227.67,67.28 L227.64,66.61 L227.62,65.95 L227.57,65.28 L227.51,64.62 L227.42,63.95 L227.32,63.29 L227.22,62.62 L227.11,61.96 L227.01,61.29 L226.89,60.63 L226.77,59.96 L226.64,59.30 L226.50,58.63 L226.36,57.97 L226.21,57.30 L226.05,56.64 L225.88,55.97 L225.70,55.31 L225.51,54.64 L225.31,53.98 L225.09,53.31 L224.84,52.65 L224.56,51.98 L224.26,51.32 L223.93,50.65 L223.57,49.99 L223.21,49.32 L222.83,48.66 L222.45,47.99 L222.07,47.33 L221.69,46.66 L221.32,46.00 L220.95,45.33 L220.61,44.67 L220.26,44.00 L219.90,43.34 L219.53,42.67 L219.15,42.01 L218.77,41.34 L218.42,40.68 L218.08,40.01 L217.78,39.35 L217.53,38.68 L217.32,38.02 L217.15,37.35 L216.98,36.69 L216.83,36.02 L216.69,35.36 L216.59,34.69 L216.53,34.03 L216.52,33.36 L216.54,32.70 L216.59,32.03 L216.65,31.37 L216.73,30.70 L216.81,30.04 L216.97,29.37 L217.24,28.71 L217.59,28.04 L217.99,27.38 L218.40,26.71 L218.79,26.05 L219.17,25.38 L219.55,24.72 L219.94,24.05 L220.35,23.39 L220.77,22.72 L221.19,22.06 L221.63,21.39 L222.08,20.73 L222.55,20.06 L223.02,19.40 Z" fill="#f6857a" stroke="#555555" stroke-width="1.25" stroke-linejoin="round"/>
<circle cx="229.2" cy="31.40" r="1.75" fill="#505050"/>
<circle cx="229.2" cy="32.96" r="1.75" fill="#505050"/>
<circle cx="229.2" cy="34.52" r="1.75" fill="#505050"/>
<circle cx="229.2" cy="36.08" r="1.75" fill="#505050"/>
<circle cx="229.2" cy="37.64" r="1.75" fill="#505050"/>
<circle cx="229.2" cy="39.20" r="1.75" fill="#505050"/>
<circle cx="229.2" cy="44.50" r="1.75" fill="#505050"/>
<circle cx="229.2" cy="55.30" r="1.75" fill="#505050"/>
<circle cx="229.2" cy="70.50" r="1.75" fill="#505050"/>
<circle cx="229.2" cy="100.60" r="1.75" fill="#505050"/>
<circle cx="229.2" cy="115.50" r="1.75" fill="#505050"/>
<circle cx="229.2" cy="137.90" r="1.75" fill="#505050"/>
<circle cx="229.2" cy="189.10" r="1.75" fill="#505050"/>
<circle cx="229.2" cy="193.00" r="1.75" fill="#505050"/>
<circle cx="229.2" cy="211.10" r="1.75" fill="#505050"/>
<circle cx="229.2" cy="215.90" r="1.75" fill="#505050"/>
<path d="M280.88,18.80 L281.19,19.47 L281.49,20.13 L281.78,20.80 L282.06,21.46 L282.32,22.13 L282.57,22.80 L282.80,23.46 L283.02,24.13 L283.23,24.79 L283.43,25.46 L283.63,26.13 L283.81,26.79 L283.97,27.46 L284.12,28.12 L284.25,28.79 L284.35,29.46 L284.45,30.12 L284.56,30.79 L284.65,31.45 L284.74,32.12 L284.82,32.79 L284.88,33.45 L284.93,34.12 L284.97,34.78 L284.98,35.45 L284.98,36.12 L284.96,36.78 L284.94,37.45 L284.91,38.11 L284.88,38.78 L284.84,39.45 L284.80,40.11 L284.76,40.78 L284.72,41.44 L284.67,42.11 L284.62,42.78 L284.56,43.44 L284.49,44.11 L284.41,44.77 L284.33,45.44 L284.24,46.11 L284.15,46.77 L284.07,47.44 L283.98,48.10 L283.91,48.77 L283.83,49.44 L283.77,50.10 L283.71,50.77 L283.65,51.44 L283.58,52.10 L283.52,52.77 L283.45,53.43 L283.39,54.10 L283.33,54.77 L283.26,55.43 L283.20,56.10 L283.14,56.76 L283.09,57.43 L283.04,58.10 L282.99,58.76 L282.94,59.43 L282.90,60.09 L282.86,60.76 L282.83,61.43 L282.81,62.09 L282.79,62.76 L282.78,63.42 L282.78,64.09 L282.78,64.76 L282.78,65.42 L282.78,66.09 L282.78,66.75 L282.78,67.42 L282.78,68.09 L282.78,68.75 L282.78,69.42 L282.78,70.08 L282.78,70.75 L282.78,71.42 L282.78,72.08 L282.78,72.75 L282.78,73.41 L282.78,74.08 L282.78,74.75 L282.78,75.41 L282.78,76.08 L282.78,76.74 L282.78,77.41 L282.78,78.08 L282.78,78.74 L282.78,79.41 L282.78,80.07 L282.78,80.74 L282.78,81.41 L282.78,82.07 L282.77,82.74 L282.76,83.40 L282.74,84.07 L282.73,84.74 L282.70,85.40 L282.68,86.07 L282.65,86.73 L282.62,87.40 L282.59,88.07 L282.55,88.73 L282.51,89.40 L282.47,90.06 L282.43,90.73 L282.38,91.40 L282.34,92.06 L282.29,92.73 L282.24,93.39 L282.19,94.06 L282.13,94.73 L282.08,95.39 L282.02,96.06 L281.97,96.72 L281.91,97.39 L281.85,98.06 L281.79,98.72 L281.73,99.39 L281.68,100.05 L281.61,100.72 L281.53,101.39 L281.44,102.05 L281.35,102.72 L281.25,103.38 L281.14,104.05 L281.03,104.72 L280.91,105.38 L280.80,106.05 L280.69,106.71 L280.58,107.38 L280.47,108.05 L280.36,108.71 L280.27,109.38 L280.17,110.05 L280.07,110.71 L279.97,111.38 L279.86,112.04 L279.75,112.71 L279.65,113.38 L279.55,114.04 L279.45,114.71 L279.36,115.37 L279.28,116.04 L279.21,116.71 L279.15,117.37 L279.10,118.04 L279.07,118.70 L279.04,119.37 L279.01,120.04 L278.99,120.70 L278.96,121.37 L278.94,122.03 L278.91,122.70 L278.89,123.37 L278.87,124.03 L278.85,124.70 L278.84,125.36 L278.82,126.03 L278.81,126.70 L278.80,127.36 L278.79,128.03 L278.78,128.69 L278.78,129.36 L278.78,130.03 L278.78,130.69 L278.78,131.36 L278.78,132.02 L278.78,132.69 L278.78,133.36 L278.78,134.02 L278.78,134.69 L278.78,135.35 L278.78,136.02 L278.78,136.69 L278.78,137.35 L278.78,138.02 L278.78,138.68 L278.78,139.35 L278.78,140.02 L278.78,140.68 L278.78,141.35 L278.78,142.01 L278.78,142.68 L278.78,143.35 L278.78,144.01 L278.78,144.68 L278.78,145.34 L278.78,146.01 L278.78,146.68 L278.78,147.34 L278.78,148.01 L278.78,148.67 L278.78,149.34 L278.78,150.01 L278.79,150.67 L278.80,151.34 L278.83,152.00 L278.87,152.67 L278.91,153.34 L278.95,154.00 L278.99,154.67 L279.04,155.33 L279.08,156.00 L279.12,156.67 L279.17,157.33 L279.22,158.00 L279.28,158.66 L279.33,159.33 L279.39,160.00 L279.45,160.66 L279.51,161.33 L279.57,161.99 L279.62,162.66 L279.67,163.33 L279.72,163.99 L279.76,164.66 L279.80,165.32 L279.83,165.99 L279.87,166.66 L279.91,167.32 L279.94,167.99 L279.98,168.65 L280.01,169.32 L280.05,169.99 L280.08,170.65 L280.11,171.32 L280.14,171.99 L280.17,172.65 L280.19,173.32 L280.22,173.98 L280.24,174.65 L280.25,175.32 L280.26,175.98 L280.27,176.65 L280.28,177.31 L280.28,177.98 L280.28,178.65 L280.27,179.31 L280.26,179.98 L280.24,180.64 L280.22,181.31 L280.20,181.98 L280.17,182.64 L280.14,183.31 L280.11,183.97 L280.08,184.64 L280.04,185.31 L280.01,185.97 L279.97,186.64 L279.93,187.30 L279.89,187.97 L279.86,188.64 L279.82,189.30 L279.78,189.97 L279.74,190.63 L279.70,191.30 L279.66,191.97 L279.61,192.63 L279.56,193.30 L279.51,193.96 L279.45,194.63 L279.40,195.30 L279.34,195.96 L279.29,196.63 L279.24,197.29 L279.18,197.96 L279.13,198.63 L279.06,199.29 L278.99,199.96 L278.92,200.62 L278.86,201.29 L278.81,201.96 L278.78,202.62 L278.78,203.29 L278.78,203.95 L278.78,204.62 L278.78,205.29 L278.78,205.95 L278.78,206.62 L278.78,207.28 L278.78,207.95 L278.78,208.62 L278.78,209.28 L278.78,209.95 L278.78,210.61 L278.78,211.28 L278.78,211.95 L278.78,212.61 L278.78,213.28 L278.78,213.94 L278.78,214.61 L278.78,215.28 L278.78,215.94 L278.78,216.61 L278.78,217.27 L278.78,217.94 L278.78,218.61 L278.78,219.27 L278.78,219.94 L278.78,220.60 L278.80,221.27 L278.82,221.94 L278.86,222.60 L278.89,223.27 L278.93,223.93 L278.97,224.60 L279.00,225.27 L279.04,225.93 L279.07,226.60 L279.09,227.26 L279.11,227.93 L279.13,228.60 L279.15,229.26 L279.17,229.93 L279.19,230.60 L279.21,231.26 L279.23,231.93 L279.25,232.59 L279.27,233.26 L279.28,233.93 L279.30,234.59 L279.31,235.26 L279.32,235.92 L279.32,236.59 L279.33,237.26 L279.33,237.92 L279.33,238.59 L279.33,239.25 L279.33,239.92 L279.33,240.59 L279.33,241.25 L279.32,241.92 L279.32,242.58 L279.32,243.25 L279.32,243.92 L279.32,244.58 L279.31,245.25 L279.31,245.91 L279.31,246.58 L279.30,247.25 L279.30,247.91 L279.29,248.58 L279.29,249.24 L279.28,249.91 L279.27,250.58 L279.24,251.24 L279.21,251.91 L279.16,252.57 L279.11,253.24 L279.05,253.91 L278.99,254.57 L278.94,255.24 L278.89,255.90 L278.84,256.57 L278.79,257.24 L278.74,257.90 L278.69,258.57 L278.63,259.23 L278.58,259.90 L278.22,259.90 L278.17,259.23 L278.11,258.57 L278.06,257.90 L278.01,257.24 L277.96,256.57 L277.91,255.90 L277.86,255.24 L277.81,254.57 L277.75,253.91 L277.69,253.24 L277.64,252.57 L277.59,251.91 L277.56,251.24 L277.53,250.58 L277.52,249.91 L277.51,249.24 L277.51,248.58 L277.50,247.91 L277.50,247.25 L277.49,246.58 L277.49,245.91 L277.49,245.25 L277.48,244.58 L277.48,243.92 L277.48,243.25 L277.48,242.58 L277.48,241.92 L277.47,241.25 L277.47,240.59 L277.47,239.92 L277.47,239.25 L277.47,238.59 L277.47,237.92 L277.47,237.26 L277.48,236.59 L277.48,235.92 L277.49,235.26 L277.50,234.59 L277.52,233.93 L277.53,233.26 L277.55,232.59 L277.57,231.93 L277.59,231.26 L277.61,230.60 L277.63,229.93 L277.65,229.26 L277.67,228.60 L277.69,227.93 L277.71,227.26 L277.73,226.60 L277.76,225.93 L277.80,225.27 L277.83,224.60 L277.87,223.93 L277.91,223.27 L277.94,222.60 L277.98,221.94 L278.00,221.27 L278.02,220.60 L278.02,219.94 L278.02,219.27 L278.02,218.61 L278.02,217.94 L278.02,217.27 L278.02,216.61 L278.02,215.94 L278.02,215.28 L278.02,214.61 L278.02,213.94 L278.02,213.28 L278.02,212.61 L278.02,211.95 L278.02,211.28 L278.02,210.61 L278.02,209.95 L278.02,209.28 L278.02,208.62 L278.02,207.95 L278.02,207.28 L278.02,206.62 L278.02,205.95 L278.02,205.29 L278.02,204.62 L278.02,203.95 L278.02,203.29 L278.02,202.62 L277.99,201.96 L277.94,201.29 L277.88,200.62 L277.81,199.96 L277.74,199.29 L277.67,198.63 L277.62,197.96 L277.56,197.29 L277.51,196.63 L277.46,195.96 L277.40,195.30 L277.35,194.63 L277.29,193.96 L277.24,193.30 L277.19,192.63 L277.14,191.97 L277.10,191.30 L277.06,190.63 L277.02,189.97 L276.98,189.30 L276.94,188.64 L276.91,187.97 L276.87,187.30 L276.83,186.64 L276.79,185.97 L276.76,185.31 L276.72,184.64 L276.69,183.97 L276.66,183.31 L276.63,182.64 L276.60,181.98 L276.58,181.31 L276.56,180.64 L276.54,179.98 L276.53,179.31 L276.52,178.65 L276.52,177.98 L276.52,177.31 L276.53,176.65 L276.54,175.98 L276.55,175.32 L276.56,174.65 L276.58,173.98 L276.61,173.32 L276.63,172.65 L276.66,171.99 L276.69,171.32 L276.72,170.65 L276.75,169.99 L276.79,169.32 L276.82,168.65 L276.86,167.99 L276.89,167.32 L276.93,166.66 L276.97,165.99 L277.00,165.32 L277.04,164.66 L277.08,163.99 L277.13,163.33 L277.18,162.66 L277.23,161.99 L277.29,161.33 L277.35,160.66 L277.41,160.00 L277.47,159.33 L277.52,158.66 L277.58,158.00 L277.63,157.33 L277.68,156.67 L277.72,156.00 L277.76,155.33 L277.81,154.67 L277.85,154.00 L277.89,153.34 L277.93,152.67 L277.97,152.00 L278.00,151.34 L278.01,150.67 L278.02,150.01 L278.02,149.34 L278.02,148.67 L278.02,148.01 L278.02,147.34 L278.02,146.68 L278.02,146.01 L278.02,145.34 L278.02,144.68 L278.02,144.01 L278.02,143.35 L278.02,142.68 L278.02,142.01 L278.02,141.35 L278.02,140.68 L278.02,140.02 L278.02,139.35 L278.02,138.68 L278.02,138.02 L278.02,137.35 L278.02,136.69 L278.02,136.02 L278.02,135.35 L278.02,134.69 L278.02,134.02 L278.02,133.36 L278.02,132.69 L278.02,132.02 L278.02,131.36 L278.02,130.69 L278.02,130.03 L278.02,129.36 L278.02,128.69 L278.01,128.03 L278.00,127.36 L277.99,126.70 L277.98,126.03 L277.96,125.36 L277.95,124.70 L277.93,124.03 L277.91,123.37 L277.89,122.70 L277.86,122.03 L277.84,121.37 L277.81,120.70 L277.79,120.04 L277.76,119.37 L277.73,118.70 L277.70,118.04 L277.65,117.37 L277.59,116.71 L277.52,116.04 L277.44,115.37 L277.35,114.71 L277.25,114.04 L277.15,113.38 L277.05,112.71 L276.94,112.04 L276.83,111.38 L276.73,110.71 L276.63,110.05 L276.53,109.38 L276.44,108.71 L276.33,108.05 L276.22,107.38 L276.11,106.71 L276.00,106.05 L275.89,105.38 L275.77,104.72 L275.66,104.05 L275.55,103.38 L275.45,102.72 L275.36,102.05 L275.27,101.39 L275.19,100.72 L275.12,100.05 L275.07,99.39 L275.01,98.72 L274.95,98.06 L274.89,97.39 L274.83,96.72 L274.78,96.06 L274.72,95.39 L274.67,94.73 L274.61,94.06 L274.56,93.39 L274.51,92.73 L274.46,92.06 L274.42,91.40 L274.37,90.73 L274.33,90.06 L274.29,89.40 L274.25,88.73 L274.21,88.07 L274.18,87.40 L274.15,86.73 L274.12,86.07 L274.10,85.40 L274.07,84.74 L274.06,84.07 L274.04,83.40 L274.03,82.74 L274.02,82.07 L274.02,81.41 L274.02,80.74 L274.02,80.07 L274.02,79.41 L274.02,78.74 L274.02,78.08 L274.02,77.41 L274.02,76.74 L274.02,76.08 L274.02,75.41 L274.02,74.75 L274.02,74.08 L274.02,73.41 L274.02,72.75 L274.02,72.08 L274.02,71.42 L274.02,70.75 L274.02,70.08 L274.02,69.42 L274.02,68.75 L274.02,68.09 L274.02,67.42 L274.02,66.75 L274.02,66.09 L274.02,65.42 L274.02,64.76 L274.02,64.09 L274.02,63.42 L274.01,62.76 L273.99,62.09 L273.97,61.43 L273.94,60.76 L273.90,60.09 L273.86,59.43 L273.81,58.76 L273.76,58.10 L273.71,57.43 L273.66,56.76 L273.60,56.10 L273.54,55.43 L273.47,54.77 L273.41,54.10 L273.35,53.43 L273.28,52.77 L273.22,52.10 L273.15,51.44 L273.09,50.77 L273.03,50.10 L272.97,49.44 L272.89,48.77 L272.82,48.10 L272.73,47.44 L272.65,46.77 L272.56,46.11 L272.47,45.44 L272.39,44.77 L272.31,44.11 L272.24,43.44 L272.18,42.78 L272.13,42.11 L272.08,41.44 L272.04,40.78 L272.00,40.11 L271.96,39.45 L271.92,38.78 L271.89,38.11 L271.86,37.45 L271.84,36.78 L271.82,36.12 L271.82,35.45 L271.83,34.78 L271.87,34.12 L271.92,33.45 L271.98,32.79 L272.06,32.12 L272.15,31.45 L272.24,30.79 L272.35,30.12 L272.45,29.46 L272.55,28.79 L272.68,28.12 L272.83,27.46 L272.99,26.79 L273.17,26.13 L273.37,25.46 L273.57,24.79 L273.78,24.13 L274.00,23.46 L274.23,22.80 L274.48,22.13 L274.74,21.46 L275.02,20.80 L275.31,20.13 L275.61,19.47 L275.92,18.80 Z" fill="#76b0d6" stroke="#555555" stroke-width="1.25" stroke-linejoin="round"/>
<circle cx="278.4" cy="30.30" r="1.75" fill="#505050"/>
<circle cx="278.4" cy="32.50" r="1.75" fill="#505050"/>
<circle cx="278.4" cy="35.70" r="1.75" fill="#505050"/>
<circle cx="278.4" cy="42.60" r="1.75" fill="#505050"/>
<circle cx="278.4" cy="44.50" r="1.75" fill="#505050"/>
<circle cx="278.4" cy="46.50" r="1.75" fill="#505050"/>
<circle cx="278.4" cy="58.90" r="1.75" fill="#505050"/>
<circle cx="278.4" cy="60.70" r="1.75" fill="#505050"/>
<circle cx="278.4" cy="62.60" r="1.75" fill="#505050"/>
<circle cx="278.4" cy="64.40" r="1.75" fill="#505050"/>
<circle cx="278.4" cy="69.60" r="1.75" fill="#505050"/>
<circle cx="278.4" cy="73.50" r="1.75" fill="#505050"/>
<circle cx="278.4" cy="84.30" r="1.75" fill="#505050"/>
<circle cx="278.4" cy="86.60" r="1.75" fill="#505050"/>
<circle cx="278.4" cy="90.50" r="1.75" fill="#505050"/>
<circle cx="278.4" cy="95.90" r="1.75" fill="#505050"/>
<circle cx="278.4" cy="99.00" r="1.75" fill="#505050"/>
<circle cx="278.4" cy="101.30" r="1.75" fill="#505050"/>
<circle cx="278.4" cy="171.30" r="1.75" fill="#505050"/>
<circle cx="278.4" cy="175.00" r="1.75" fill="#505050"/>
<circle cx="278.4" cy="183.30" r="1.75" fill="#505050"/>
<circle cx="278.4" cy="231.70" r="1.75" fill="#505050"/>
<circle cx="278.4" cy="246.70" r="1.75" fill="#505050"/>
<path d="M329.28,19.00 L329.51,19.67 L329.74,20.33 L329.96,21.00 L330.18,21.66 L330.38,22.33 L330.56,22.99 L330.74,23.66 L330.89,24.33 L331.02,24.99 L331.13,25.66 L331.22,26.32 L331.31,26.99 L331.39,27.65 L331.47,28.32 L331.54,28.99 L331.61,29.65 L331.68,30.32 L331.74,30.98 L331.79,31.65 L331.83,32.31 L331.87,32.98 L331.90,33.65 L331.92,34.31 L331.93,34.98 L331.93,35.64 L331.92,36.31 L331.91,36.97 L331.90,37.64 L331.88,38.31 L331.86,38.97 L331.84,39.64 L331.82,40.30 L331.79,40.97 L331.76,41.64 L331.72,42.30 L331.69,42.97 L331.65,43.63 L331.62,44.30 L331.58,44.96 L331.54,45.63 L331.50,46.30 L331.46,46.96 L331.42,47.63 L331.38,48.29 L331.34,48.96 L331.30,49.62 L331.26,50.29 L331.22,50.96 L331.18,51.62 L331.13,52.29 L331.08,52.95 L331.03,53.62 L330.98,54.28 L330.92,54.95 L330.86,55.62 L330.81,56.28 L330.75,56.95 L330.70,57.61 L330.64,58.28 L330.59,58.94 L330.54,59.61 L330.49,60.28 L330.45,60.94 L330.40,61.61 L330.36,62.27 L330.32,62.94 L330.28,63.60 L330.24,64.27 L330.20,64.94 L330.16,65.60 L330.12,66.27 L330.08,66.93 L330.04,67.60 L330.00,68.26 L329.96,68.93 L329.93,69.60 L329.90,70.26 L329.87,70.93 L329.84,71.59 L329.82,72.26 L329.81,72.92 L329.79,73.59 L329.78,74.26 L329.78,74.92 L329.78,75.59 L329.79,76.25 L329.81,76.92 L329.84,77.58 L329.87,78.25 L329.90,78.92 L329.95,79.58 L329.99,80.25 L330.04,80.91 L330.09,81.58 L330.15,82.25 L330.21,82.91 L330.26,83.58 L330.32,84.24 L330.38,84.91 L330.44,85.57 L330.50,86.24 L330.56,86.91 L330.61,87.57 L330.66,88.24 L330.71,88.90 L330.76,89.57 L330.80,90.23 L330.83,90.90 L330.86,91.57 L330.89,92.23 L330.91,92.90 L330.93,93.56 L330.96,94.23 L330.98,94.89 L331.00,95.56 L331.02,96.23 L331.04,96.89 L331.05,97.56 L331.07,98.22 L331.07,98.89 L331.08,99.55 L331.08,100.22 L331.06,100.89 L331.03,101.55 L330.99,102.22 L330.93,102.88 L330.87,103.55 L330.80,104.21 L330.73,104.88 L330.66,105.55 L330.60,106.21 L330.55,106.88 L330.50,107.54 L330.47,108.21 L330.45,108.87 L330.42,109.54 L330.40,110.21 L330.38,110.87 L330.36,111.54 L330.35,112.20 L330.33,112.87 L330.32,113.53 L330.31,114.20 L330.29,114.87 L330.28,115.53 L330.27,116.20 L330.25,116.86 L330.24,117.53 L330.23,118.19 L330.21,118.86 L330.19,119.53 L330.18,120.19 L330.16,120.86 L330.14,121.52 L330.11,122.19 L330.09,122.86 L330.06,123.52 L330.02,124.19 L329.97,124.85 L329.92,125.52 L329.86,126.18 L329.80,126.85 L329.74,127.52 L329.67,128.18 L329.60,128.85 L329.52,129.51 L329.45,130.18 L329.38,130.84 L329.30,131.51 L329.23,132.18 L329.16,132.84 L329.10,133.51 L329.03,134.17 L328.98,134.84 L328.92,135.50 L328.88,136.17 L328.84,136.84 L328.81,137.50 L328.77,138.17 L328.74,138.83 L328.71,139.50 L328.67,140.16 L328.64,140.83 L328.61,141.50 L328.58,142.16 L328.55,142.83 L328.52,143.49 L328.50,144.16 L328.48,144.82 L328.45,145.49 L328.44,146.16 L328.42,146.82 L328.40,147.49 L328.39,148.15 L328.39,148.82 L328.38,149.48 L328.38,150.15 L328.38,150.82 L328.39,151.48 L328.39,152.15 L328.40,152.81 L328.41,153.48 L328.42,154.14 L328.43,154.81 L328.45,155.48 L328.46,156.14 L328.48,156.81 L328.50,157.47 L328.52,158.14 L328.54,158.81 L328.56,159.47 L328.59,160.14 L328.63,160.80 L328.69,161.47 L328.76,162.13 L328.85,162.80 L328.94,163.47 L329.03,164.13 L329.12,164.80 L329.19,165.46 L329.24,166.13 L329.27,166.79 L329.28,167.46 L329.27,168.13 L329.24,168.79 L329.20,169.46 L329.16,170.12 L329.10,170.79 L329.05,171.45 L328.99,172.12 L328.93,172.79 L328.88,173.45 L328.83,174.12 L328.79,174.78 L328.76,175.45 L328.73,176.11 L328.69,176.78 L328.66,177.45 L328.62,178.11 L328.59,178.78 L328.56,179.44 L328.52,180.11 L328.49,180.77 L328.46,181.44 L328.43,182.11 L328.40,182.77 L328.37,183.44 L328.34,184.10 L328.32,184.77 L328.29,185.43 L328.27,186.10 L328.25,186.77 L328.23,187.43 L328.22,188.10 L328.20,188.76 L328.19,189.43 L328.19,190.09 L328.18,190.76 L328.18,191.43 L328.18,192.09 L328.19,192.76 L328.20,193.42 L328.22,194.09 L328.23,194.75 L328.25,195.42 L328.27,196.09 L328.29,196.75 L328.31,197.42 L328.33,198.08 L328.35,198.75 L328.37,199.42 L328.38,200.08 L328.39,200.75 L328.41,201.41 L328.42,202.08 L328.43,202.74 L328.45,203.41 L328.46,204.08 L328.47,204.74 L328.49,205.41 L328.50,206.07 L328.51,206.74 L328.53,207.40 L328.54,208.07 L328.55,208.74 L328.57,209.40 L328.58,210.07 L328.59,210.73 L328.60,211.40 L328.61,212.06 L328.62,212.73 L328.63,213.40 L328.64,214.06 L328.65,214.73 L328.65,215.39 L328.66,216.06 L328.67,216.72 L328.67,217.39 L328.68,218.06 L328.68,218.72 L328.68,219.39 L328.68,220.05 L328.68,220.72 L328.68,221.38 L328.68,222.05 L328.67,222.72 L328.67,223.38 L328.66,224.05 L328.66,224.71 L328.65,225.38 L328.64,226.04 L328.63,226.71 L328.62,227.38 L328.61,228.04 L328.60,228.71 L328.59,229.37 L328.58,230.04 L328.57,230.70 L328.56,231.37 L328.54,232.04 L328.53,232.70 L328.52,233.37 L328.51,234.03 L328.49,234.70 L328.48,235.36 L328.46,236.03 L328.45,236.70 L328.44,237.36 L328.42,238.03 L328.41,238.69 L328.39,239.36 L328.38,240.03 L328.36,240.69 L328.35,241.36 L328.33,242.02 L328.31,242.69 L328.30,243.35 L328.28,244.02 L328.26,244.69 L328.23,245.35 L328.21,246.02 L328.19,246.68 L328.17,247.35 L328.15,248.01 L328.12,248.68 L328.10,249.35 L328.08,250.01 L328.06,250.68 L328.03,251.34 L328.01,252.01 L327.99,252.67 L327.96,253.34 L327.94,254.01 L327.91,254.67 L327.89,255.34 L327.86,256.00 L327.83,256.67 L327.81,257.33 L327.78,258.00 L327.42,258.00 L327.39,257.33 L327.37,256.67 L327.34,256.00 L327.31,255.34 L327.29,254.67 L327.26,254.01 L327.24,253.34 L327.21,252.67 L327.19,252.01 L327.17,251.34 L327.14,250.68 L327.12,250.01 L327.10,249.35 L327.08,248.68 L327.05,248.01 L327.03,247.35 L327.01,246.68 L326.99,246.02 L326.97,245.35 L326.94,244.69 L326.92,244.02 L326.90,243.35 L326.89,242.69 L326.87,242.02 L326.85,241.36 L326.84,240.69 L326.82,240.03 L326.81,239.36 L326.79,238.69 L326.78,238.03 L326.76,237.36 L326.75,236.70 L326.74,236.03 L326.72,235.36 L326.71,234.70 L326.69,234.03 L326.68,233.37 L326.67,232.70 L326.66,232.04 L326.64,231.37 L326.63,230.70 L326.62,230.04 L326.61,229.37 L326.60,228.71 L326.59,228.04 L326.58,227.38 L326.57,226.71 L326.56,226.04 L326.55,225.38 L326.54,224.71 L326.54,224.05 L326.53,223.38 L326.53,222.72 L326.52,222.05 L326.52,221.38 L326.52,220.72 L326.52,220.05 L326.52,219.39 L326.52,218.72 L326.52,218.06 L326.53,217.39 L326.53,216.72 L326.54,216.06 L326.55,215.39 L326.55,214.73 L326.56,214.06 L326.57,213.40 L326.58,212.73 L326.59,212.06 L326.60,211.40 L326.61,210.73 L326.62,210.07 L326.63,209.40 L326.65,208.74 L326.66,208.07 L326.67,207.40 L326.69,206.74 L326.70,206.07 L326.71,205.41 L326.73,204.74 L326.74,204.08 L326.75,203.41 L326.77,202.74 L326.78,202.08 L326.79,201.41 L326.81,200.75 L326.82,200.08 L326.83,199.42 L326.85,198.75 L326.87,198.08 L326.89,197.42 L326.91,196.75 L326.93,196.09 L326.95,195.42 L326.97,194.75 L326.98,194.09 L327.00,193.42 L327.01,192.76 L327.02,192.09 L327.02,191.43 L327.02,190.76 L327.01,190.09 L327.01,189.43 L327.00,188.76 L326.98,188.10 L326.97,187.43 L326.95,186.77 L326.93,186.10 L326.91,185.43 L326.88,184.77 L326.86,184.10 L326.83,183.44 L326.80,182.77 L326.77,182.11 L326.74,181.44 L326.71,180.77 L326.68,180.11 L326.64,179.44 L326.61,178.78 L326.58,178.11 L326.54,177.45 L326.51,176.78 L326.47,176.11 L326.44,175.45 L326.41,174.78 L326.37,174.12 L326.32,173.45 L326.27,172.79 L326.21,172.12 L326.15,171.45 L326.10,170.79 L326.04,170.12 L326.00,169.46 L325.96,168.79 L325.93,168.13 L325.92,167.46 L325.93,166.79 L325.96,166.13 L326.01,165.46 L326.08,164.80 L326.17,164.13 L326.26,163.47 L326.35,162.80 L326.44,162.13 L326.51,161.47 L326.57,160.80 L326.61,160.14 L326.64,159.47 L326.66,158.81 L326.68,158.14 L326.70,157.47 L326.72,156.81 L326.74,156.14 L326.75,155.48 L326.77,154.81 L326.78,154.14 L326.79,153.48 L326.80,152.81 L326.81,152.15 L326.81,151.48 L326.82,150.82 L326.82,150.15 L326.82,149.48 L326.81,148.82 L326.81,148.15 L326.80,147.49 L326.78,146.82 L326.76,146.16 L326.75,145.49 L326.72,144.82 L326.70,144.16 L326.68,143.49 L326.65,142.83 L326.62,142.16 L326.59,141.50 L326.56,140.83 L326.53,140.16 L326.49,139.50 L326.46,138.83 L326.43,138.17 L326.39,137.50 L326.36,136.84 L326.32,136.17 L326.28,135.50 L326.22,134.84 L326.17,134.17 L326.10,133.51 L326.04,132.84 L325.97,132.18 L325.90,131.51 L325.82,130.84 L325.75,130.18 L325.68,129.51 L325.60,128.85 L325.53,128.18 L325.46,127.52 L325.40,126.85 L325.34,126.18 L325.28,125.52 L325.23,124.85 L325.18,124.19 L325.14,123.52 L325.11,122.86 L325.09,122.19 L325.06,121.52 L325.04,120.86 L325.02,120.19 L325.01,119.53 L324.99,118.86 L324.97,118.19 L324.96,117.53 L324.95,116.86 L324.93,116.20 L324.92,115.53 L324.91,114.87 L324.89,114.20 L324.88,113.53 L324.87,112.87 L324.85,112.20 L324.84,111.54 L324.82,110.87 L324.80,110.21 L324.78,109.54 L324.75,108.87 L324.73,108.21 L324.70,107.54 L324.65,106.88 L324.60,106.21 L324.54,105.55 L324.47,104.88 L324.40,104.21 L324.33,103.55 L324.27,102.88 L324.21,102.22 L324.17,101.55 L324.14,100.89 L324.12,100.22 L324.12,99.55 L324.13,98.89 L324.13,98.22 L324.15,97.56 L324.16,96.89 L324.18,96.23 L324.20,95.56 L324.22,94.89 L324.24,94.23 L324.27,93.56 L324.29,92.90 L324.31,92.23 L324.34,91.57 L324.37,90.90 L324.40,90.23 L324.44,89.57 L324.49,88.90 L324.54,88.24 L324.59,87.57 L324.64,86.91 L324.70,86.24 L324.76,85.57 L324.82,84.91 L324.88,84.24 L324.94,83.58 L324.99,82.91 L325.05,82.25 L325.11,81.58 L325.16,80.91 L325.21,80.25 L325.25,79.58 L325.30,78.92 L325.33,78.25 L325.36,77.58 L325.39,76.92 L325.41,76.25 L325.42,75.59 L325.42,74.92 L325.42,74.26 L325.41,73.59 L325.39,72.92 L325.38,72.26 L325.36,71.59 L325.33,70.93 L325.30,70.26 L325.27,69.60 L325.24,68.93 L325.20,68.26 L325.16,67.60 L325.12,66.93 L325.08,66.27 L325.04,65.60 L325.00,64.94 L324.96,64.27 L324.92,63.60 L324.88,62.94 L324.84,62.27 L324.80,61.61 L324.75,60.94 L324.71,60.28 L324.66,59.61 L324.61,58.94 L324.56,58.28 L324.50,57.61 L324.45,56.95 L324.39,56.28 L324.34,55.62 L324.28,54.95 L324.22,54.28 L324.17,53.62 L324.12,52.95 L324.07,52.29 L324.02,51.62 L323.98,50.96 L323.94,50.29 L323.90,49.62 L323.86,48.96 L323.82,48.29 L323.78,47.63 L323.74,46.96 L323.70,46.30 L323.66,45.63 L323.62,44.96 L323.58,44.30 L323.55,43.63 L323.51,42.97 L323.48,42.30 L323.44,41.64 L323.41,40.97 L323.38,40.30 L323.36,39.64 L323.34,38.97 L323.32,38.31 L323.30,37.64 L323.29,36.97 L323.28,36.31 L323.27,35.64 L323.27,34.98 L323.28,34.31 L323.30,33.65 L323.33,32.98 L323.37,32.31 L323.41,31.65 L323.46,30.98 L323.52,30.32 L323.59,29.65 L323.66,28.99 L323.73,28.32 L323.81,27.65 L323.89,26.99 L323.98,26.32 L324.07,25.66 L324.18,24.99 L324.31,24.33 L324.46,23.66 L324.64,22.99 L324.82,22.33 L325.02,21.66 L325.24,21.00 L325.46,20.33 L325.69,19.67 L325.92,19.00 Z" fill="#f8b05e" stroke="#555555" stroke-width="1.25" stroke-linejoin="round"/>
<circle cx="327.6" cy="30.30" r="1.75" fill="#505050"/>
<circle cx="327.6" cy="32.30" r="1.75" fill="#505050"/>
<circle cx="327.6" cy="34.90" r="1.75" fill="#505050"/>
<circle cx="327.6" cy="45.00" r="1.75" fill="#505050"/>
<circle cx="327.6" cy="47.70" r="1.75" fill="#505050"/>
<circle cx="327.6" cy="51.20" r="1.75" fill="#505050"/>
<circle cx="327.6" cy="58.90" r="1.75" fill="#505050"/>
<circle cx="327.6" cy="60.40" r="1.75" fill="#505050"/>
<circle cx="327.6" cy="63.40" r="1.75" fill="#505050"/>
<circle cx="327.6" cy="75.00" r="1.75" fill="#505050"/>
<circle cx="327.6" cy="86.60" r="1.75" fill="#505050"/>
<circle cx="327.6" cy="91.20" r="1.75" fill="#505050"/>
<circle cx="327.6" cy="95.10" r="1.75" fill="#505050"/>
<circle cx="327.6" cy="96.60" r="1.75" fill="#505050"/>
<circle cx="327.6" cy="101.30" r="1.75" fill="#505050"/>
<circle cx="327.6" cy="107.50" r="1.75" fill="#505050"/>
<circle cx="327.6" cy="110.80" r="1.75" fill="#505050"/>
<circle cx="327.6" cy="122.40" r="1.75" fill="#505050"/>
<circle cx="327.6" cy="124.00" r="1.75" fill="#505050"/>
<circle cx="327.6" cy="128.60" r="1.75" fill="#505050"/>
<circle cx="327.6" cy="132.50" r="1.75" fill="#505050"/>
<circle cx="327.6" cy="135.50" r="1.75" fill="#505050"/>
<circle cx="327.6" cy="161.70" r="1.75" fill="#505050"/>
<circle cx="327.6" cy="163.50" r="1.75" fill="#505050"/>
<circle cx="327.6" cy="171.90" r="1.75" fill="#505050"/>
<circle cx="327.6" cy="186.70" r="1.75" fill="#505050"/>
<circle cx="327.6" cy="214.40" r="1.75" fill="#505050"/>
<circle cx="327.6" cy="218.20" r="1.75" fill="#505050"/>
<circle cx="327.6" cy="223.00" r="1.75" fill="#505050"/>
<circle cx="327.6" cy="245.90" r="1.75" fill="#505050"/>
<path d="M376.98,72.50 L377.06,73.17 L377.13,73.83 L377.21,74.50 L377.28,75.16 L377.36,75.83 L377.43,76.49 L377.50,77.16 L377.58,77.82 L377.65,78.49 L377.72,79.15 L377.80,79.82 L377.87,80.48 L377.94,81.15 L378.01,81.81 L378.08,82.48 L378.15,83.14 L378.22,83.81 L378.29,84.47 L378.36,85.14 L378.43,85.81 L378.49,86.47 L378.56,87.14 L378.63,87.80 L378.69,88.47 L378.76,89.13 L378.83,89.80 L378.90,90.46 L378.96,91.13 L379.03,91.79 L379.10,92.46 L379.17,93.12 L379.24,93.79 L379.31,94.45 L379.38,95.12 L379.45,95.78 L379.53,96.45 L379.60,97.11 L379.68,97.78 L379.76,98.45 L379.85,99.11 L379.93,99.78 L380.01,100.44 L380.10,101.11 L380.18,101.77 L380.27,102.44 L380.35,103.10 L380.43,103.77 L380.51,104.43 L380.59,105.10 L380.67,105.76 L380.77,106.43 L380.86,107.09 L380.96,107.76 L381.05,108.42 L381.13,109.09 L381.20,109.75 L381.25,110.42 L381.27,111.09 L381.28,111.75 L381.27,112.42 L381.25,113.08 L381.22,113.75 L381.18,114.41 L381.14,115.08 L381.10,115.74 L381.05,116.41 L380.97,117.07 L380.86,117.74 L380.74,118.40 L380.60,119.07 L380.45,119.73 L380.31,120.40 L380.16,121.06 L380.03,121.73 L379.91,122.39 L379.78,123.06 L379.66,123.73 L379.53,124.39 L379.41,125.06 L379.28,125.72 L379.17,126.39 L379.05,127.05 L378.95,127.72 L378.85,128.38 L378.76,129.05 L378.66,129.71 L378.57,130.38 L378.47,131.04 L378.38,131.71 L378.29,132.37 L378.20,133.04 L378.11,133.70 L378.03,134.37 L377.96,135.03 L377.89,135.70 L377.83,136.37 L377.78,137.03 L377.73,137.70 L377.70,138.36 L377.68,139.03 L377.66,139.69 L377.65,140.36 L377.63,141.02 L377.62,141.69 L377.61,142.35 L377.60,143.02 L377.58,143.68 L377.57,144.35 L377.56,145.01 L377.55,145.68 L377.54,146.34 L377.53,147.01 L377.52,147.67 L377.52,148.34 L377.51,149.01 L377.50,149.67 L377.50,150.34 L377.49,151.00 L377.49,151.67 L377.49,152.33 L377.48,153.00 L377.48,153.66 L377.48,154.33 L377.48,154.99 L377.48,155.66 L377.48,156.32 L377.49,156.99 L377.50,157.65 L377.51,158.32 L377.52,158.98 L377.53,159.65 L377.54,160.31 L377.56,160.98 L377.57,161.65 L377.59,162.31 L377.61,162.98 L377.63,163.64 L377.64,164.31 L377.66,164.97 L377.68,165.64 L377.70,166.30 L377.71,166.97 L377.73,167.63 L377.74,168.30 L377.76,168.96 L377.77,169.63 L377.79,170.29 L377.80,170.96 L377.81,171.62 L377.82,172.29 L377.84,172.95 L377.85,173.62 L377.86,174.29 L377.88,174.95 L377.89,175.62 L377.90,176.28 L377.92,176.95 L377.93,177.61 L377.94,178.28 L377.96,178.94 L377.97,179.61 L377.98,180.27 L377.99,180.94 L378.00,181.60 L378.01,182.27 L378.01,182.93 L378.02,183.60 L378.03,184.26 L378.03,184.93 L378.03,185.59 L378.04,186.26 L378.04,186.93 L378.04,187.59 L378.04,188.26 L378.05,188.92 L378.05,189.59 L378.05,190.25 L378.05,190.92 L378.05,191.58 L378.05,192.25 L378.05,192.91 L378.06,193.58 L378.06,194.24 L378.06,194.91 L378.06,195.57 L378.06,196.24 L378.07,196.90 L378.07,197.57 L378.07,198.23 L378.07,198.90 L378.08,199.57 L378.08,200.23 L378.09,200.90 L378.09,201.56 L378.10,202.23 L378.11,202.89 L378.12,203.56 L378.14,204.22 L378.15,204.89 L378.17,205.55 L378.19,206.22 L378.21,206.88 L378.23,207.55 L378.25,208.21 L378.28,208.88 L378.30,209.54 L378.33,210.21 L378.36,210.87 L378.39,211.54 L378.42,212.21 L378.46,212.87 L378.49,213.54 L378.55,214.20 L378.62,214.87 L378.71,215.53 L378.81,216.20 L378.92,216.86 L379.04,217.53 L379.17,218.19 L379.30,218.86 L379.44,219.52 L379.58,220.19 L379.71,220.85 L379.86,221.52 L380.02,222.18 L380.19,222.85 L380.38,223.51 L380.57,224.18 L380.76,224.85 L380.95,225.51 L381.13,226.18 L381.31,226.84 L381.47,227.51 L381.62,228.17 L381.75,228.84 L381.88,229.50 L382.00,230.17 L382.12,230.83 L382.23,231.50 L382.34,232.16 L382.45,232.83 L382.57,233.49 L382.69,234.16 L382.82,234.82 L382.96,235.49 L383.11,236.15 L383.28,236.82 L383.47,237.49 L383.66,238.15 L383.86,238.82 L384.04,239.48 L384.20,240.15 L384.35,240.81 L384.47,241.48 L384.59,242.14 L384.71,242.81 L384.81,243.47 L384.89,244.14 L384.93,244.80 L384.93,245.47 L384.92,246.13 L384.91,246.80 L384.90,247.46 L384.88,248.13 L384.85,248.79 L384.82,249.46 L384.79,250.13 L384.75,250.79 L384.71,251.46 L384.67,252.12 L384.57,252.79 L384.41,253.45 L384.19,254.12 L383.94,254.78 L383.67,255.45 L383.38,256.11 L383.11,256.78 L382.86,257.44 L382.65,258.11 L382.46,258.77 L382.27,259.44 L382.09,260.10 L381.91,260.77 L381.74,261.43 L381.58,262.10 L372.02,262.10 L371.86,261.43 L371.69,260.77 L371.51,260.10 L371.33,259.44 L371.14,258.77 L370.95,258.11 L370.74,257.44 L370.49,256.78 L370.22,256.11 L369.93,255.45 L369.66,254.78 L369.41,254.12 L369.19,253.45 L369.03,252.79 L368.93,252.12 L368.89,251.46 L368.85,250.79 L368.81,250.13 L368.78,249.46 L368.75,248.79 L368.72,248.13 L368.70,247.46 L368.69,246.80 L368.68,246.13 L368.67,245.47 L368.67,244.80 L368.71,244.14 L368.79,243.47 L368.89,242.81 L369.01,242.14 L369.13,241.48 L369.25,240.81 L369.40,240.15 L369.56,239.48 L369.74,238.82 L369.94,238.15 L370.13,237.49 L370.32,236.82 L370.49,236.15 L370.64,235.49 L370.78,234.82 L370.91,234.16 L371.03,233.49 L371.15,232.83 L371.26,232.16 L371.37,231.50 L371.48,230.83 L371.60,230.17 L371.72,229.50 L371.85,228.84 L371.98,228.17 L372.13,227.51 L372.29,226.84 L372.47,226.18 L372.65,225.51 L372.84,224.85 L373.03,224.18 L373.22,223.51 L373.41,222.85 L373.58,222.18 L373.74,221.52 L373.89,220.85 L374.02,220.19 L374.16,219.52 L374.30,218.86 L374.43,218.19 L374.56,217.53 L374.68,216.86 L374.79,216.20 L374.89,215.53 L374.98,214.87 L375.05,214.20 L375.11,213.54 L375.14,212.87 L375.18,212.21 L375.21,211.54 L375.24,210.87 L375.27,210.21 L375.30,209.54 L375.32,208.88 L375.35,208.21 L375.37,207.55 L375.39,206.88 L375.41,206.22 L375.43,205.55 L375.45,204.89 L375.46,204.22 L375.48,203.56 L375.49,202.89 L375.50,202.23 L375.51,201.56 L375.51,200.90 L375.52,200.23 L375.52,199.57 L375.53,198.90 L375.53,198.23 L375.53,197.57 L375.53,196.90 L375.54,196.24 L375.54,195.57 L375.54,194.91 L375.54,194.24 L375.54,193.58 L375.55,192.91 L375.55,192.25 L375.55,191.58 L375.55,190.92 L375.55,190.25 L375.55,189.59 L375.55,188.92 L375.56,188.26 L375.56,187.59 L375.56,186.93 L375.56,186.26 L375.57,185.59 L375.57,184.93 L375.57,184.26 L375.58,183.60 L375.59,182.93 L375.59,182.27 L375.60,181.60 L375.61,180.94 L375.62,180.27 L375.63,179.61 L375.64,178.94 L375.66,178.28 L375.67,177.61 L375.68,176.95 L375.70,176.28 L375.71,175.62 L375.72,174.95 L375.74,174.29 L375.75,173.62 L375.76,172.95 L375.78,172.29 L375.79,171.62 L375.80,170.96 L375.81,170.29 L375.83,169.63 L375.84,168.96 L375.86,168.30 L375.87,167.63 L375.89,166.97 L375.90,166.30 L375.92,165.64 L375.94,164.97 L375.96,164.31 L375.97,163.64 L375.99,162.98 L376.01,162.31 L376.03,161.65 L376.04,160.98 L376.06,160.31 L376.07,159.65 L376.08,158.98 L376.09,158.32 L376.10,157.65 L376.11,156.99 L376.12,156.32 L376.12,155.66 L376.12,154.99 L376.12,154.33 L376.12,153.66 L376.12,153.00 L376.11,152.33 L376.11,151.67 L376.11,151.00 L376.10,150.34 L376.10,149.67 L376.09,149.01 L376.08,148.34 L376.08,147.67 L376.07,147.01 L376.06,146.34 L376.05,145.68 L376.04,145.01 L376.03,144.35 L376.02,143.68 L376.00,143.02 L375.99,142.35 L375.98,141.69 L375.97,141.02 L375.95,140.36 L375.94,139.69 L375.92,139.03 L375.90,138.36 L375.87,137.70 L375.82,137.03 L375.77,136.37 L375.71,135.70 L375.64,135.03 L375.57,134.37 L375.49,133.70 L375.40,133.04 L375.31,132.37 L375.22,131.71 L375.13,131.04 L375.03,130.38 L374.94,129.71 L374.84,129.05 L374.75,128.38 L374.65,127.72 L374.55,127.05 L374.43,126.39 L374.32,125.72 L374.19,125.06 L374.07,124.39 L373.94,123.73 L373.82,123.06 L373.69,122.39 L373.57,121.73 L373.44,121.06 L373.29,120.40 L373.15,119.73 L373.00,119.07 L372.86,118.40 L372.74,117.74 L372.63,117.07 L372.55,116.41 L372.50,115.74 L372.46,115.08 L372.42,114.41 L372.38,113.75 L372.35,113.08 L372.33,112.42 L372.32,111.75 L372.33,111.09 L372.35,110.42 L372.40,109.75 L372.47,109.09 L372.55,108.42 L372.64,107.76 L372.74,107.09 L372.83,106.43 L372.93,105.76 L373.01,105.10 L373.09,104.43 L373.17,103.77 L373.25,103.10 L373.33,102.44 L373.42,101.77 L373.50,101.11 L373.59,100.44 L373.67,99.78 L373.75,99.11 L373.84,98.45 L373.92,97.78 L374.00,97.11 L374.07,96.45 L374.15,95.78 L374.22,95.12 L374.29,94.45 L374.36,93.79 L374.43,93.12 L374.50,92.46 L374.57,91.79 L374.64,91.13 L374.70,90.46 L374.77,89.80 L374.84,89.13 L374.91,88.47 L374.97,87.80 L375.04,87.14 L375.11,86.47 L375.17,85.81 L375.24,85.14 L375.31,84.47 L375.38,83.81 L375.45,83.14 L375.52,82.48 L375.59,81.81 L375.66,81.15 L375.73,80.48 L375.80,79.82 L375.88,79.15 L375.95,78.49 L376.02,77.82 L376.10,77.16 L376.17,76.49 L376.24,75.83 L376.32,75.16 L376.39,74.50 L376.47,73.83 L376.54,73.17 L376.62,72.50 Z" fill="#92d35a" stroke="#555555" stroke-width="1.25" stroke-linejoin="round"/>
<circle cx="376.8" cy="73.00" r="1.75" fill="#505050"/>
<circle cx="376.8" cy="85.00" r="1.75" fill="#505050"/>
<circle cx="376.8" cy="90.00" r="1.75" fill="#505050"/>
<circle cx="376.8" cy="108.50" r="1.75" fill="#505050"/>
<circle cx="376.8" cy="111.00" r="1.75" fill="#505050"/>
<circle cx="376.8" cy="113.10" r="1.75" fill="#505050"/>
<circle cx="376.8" cy="115.00" r="1.75" fill="#505050"/>
<circle cx="376.8" cy="116.60" r="1.75" fill="#505050"/>
<circle cx="376.8" cy="118.00" r="1.75" fill="#505050"/>
<circle cx="376.8" cy="146.00" r="1.75" fill="#505050"/>
<circle cx="376.8" cy="166.20" r="1.75" fill="#505050"/>
<circle cx="376.8" cy="176.60" r="1.75" fill="#505050"/>
<circle cx="376.8" cy="198.60" r="1.75" fill="#505050"/>
<circle cx="376.8" cy="210.20" r="1.75" fill="#505050"/>
<circle cx="376.8" cy="231.20" r="1.75" fill="#505050"/>
<circle cx="376.8" cy="241.60" r="1.75" fill="#505050"/>
<circle cx="376.8" cy="249.30" r="1.75" fill="#505050"/>
<path d="M426.68,70.10 L426.81,70.76 L426.96,71.43 L427.11,72.09 L427.27,72.76 L427.43,73.42 L427.60,74.09 L427.79,74.75 L427.98,75.42 L428.18,76.08 L428.39,76.75 L428.60,77.41 L428.81,78.08 L429.02,78.74 L429.23,79.41 L429.44,80.07 L429.65,80.73 L429.86,81.40 L430.07,82.06 L430.28,82.73 L430.49,83.39 L430.70,84.06 L430.90,84.72 L431.11,85.39 L431.33,86.05 L431.54,86.72 L431.74,87.38 L431.95,88.05 L432.14,88.71 L432.33,89.38 L432.51,90.04 L432.68,90.71 L432.85,91.37 L433.02,92.03 L433.20,92.70 L433.37,93.36 L433.52,94.03 L433.64,94.69 L433.73,95.36 L433.78,96.02 L433.81,96.69 L433.83,97.35 L433.85,98.02 L433.87,98.68 L433.88,99.35 L433.88,100.01 L433.87,100.68 L433.83,101.34 L433.78,102.00 L433.70,102.67 L433.62,103.33 L433.53,104.00 L433.44,104.66 L433.34,105.33 L433.25,105.99 L433.16,106.66 L433.07,107.32 L432.97,107.99 L432.87,108.65 L432.76,109.32 L432.65,109.98 L432.53,110.65 L432.42,111.31 L432.30,111.98 L432.19,112.64 L432.08,113.30 L431.98,113.97 L431.88,114.63 L431.79,115.30 L431.71,115.96 L431.63,116.63 L431.55,117.29 L431.48,117.96 L431.40,118.62 L431.33,119.29 L431.26,119.95 L431.20,120.62 L431.13,121.28 L431.06,121.95 L431.00,122.61 L430.94,123.27 L430.88,123.94 L430.82,124.60 L430.76,125.27 L430.70,125.93 L430.64,126.60 L430.59,127.26 L430.54,127.93 L430.48,128.59 L430.43,129.26 L430.38,129.92 L430.33,130.59 L430.28,131.25 L430.23,131.92 L430.18,132.58 L430.13,133.25 L430.07,133.91 L430.02,134.57 L429.96,135.24 L429.90,135.90 L429.84,136.57 L429.77,137.23 L429.71,137.90 L429.64,138.56 L429.58,139.23 L429.51,139.89 L429.44,140.56 L429.37,141.22 L429.30,141.89 L429.23,142.55 L429.16,143.22 L429.10,143.88 L429.03,144.54 L428.96,145.21 L428.89,145.87 L428.83,146.54 L428.76,147.20 L428.70,147.87 L428.63,148.53 L428.57,149.20 L428.50,149.86 L428.42,150.53 L428.33,151.19 L428.23,151.86 L428.13,152.52 L428.03,153.19 L427.92,153.85 L427.81,154.52 L427.70,155.18 L427.60,155.84 L427.50,156.51 L427.41,157.17 L427.33,157.84 L427.25,158.50 L427.19,159.17 L427.14,159.83 L427.09,160.50 L427.04,161.16 L426.99,161.83 L426.95,162.49 L426.91,163.16 L426.87,163.82 L426.83,164.49 L426.80,165.15 L426.76,165.81 L426.74,166.48 L426.71,167.14 L426.70,167.81 L426.68,168.47 L426.67,169.14 L426.66,169.80 L426.64,170.47 L426.63,171.13 L426.62,171.80 L426.61,172.46 L426.60,173.13 L426.59,173.79 L426.58,174.46 L426.57,175.12 L426.56,175.78 L426.55,176.45 L426.54,177.11 L426.53,177.78 L426.52,178.44 L426.51,179.11 L426.51,179.77 L426.50,180.44 L426.49,181.10 L426.48,181.77 L426.48,182.43 L426.47,183.10 L426.46,183.76 L426.46,184.43 L426.45,185.09 L426.44,185.76 L426.44,186.42 L426.43,187.08 L426.43,187.75 L426.42,188.41 L426.42,189.08 L426.41,189.74 L426.41,190.41 L426.40,191.07 L426.40,191.74 L426.40,192.40 L426.40,193.07 L426.39,193.73 L426.39,194.40 L426.39,195.06 L426.39,195.73 L426.38,196.39 L426.38,197.05 L426.38,197.72 L426.38,198.38 L426.38,199.05 L426.38,199.71 L426.38,200.38 L426.38,201.04 L426.38,201.71 L426.38,202.37 L426.38,203.04 L426.38,203.70 L426.38,204.37 L426.38,205.03 L426.39,205.70 L426.39,206.36 L426.39,207.03 L426.39,207.69 L426.39,208.35 L426.39,209.02 L426.40,209.68 L426.40,210.35 L426.40,211.01 L426.40,211.68 L426.41,212.34 L426.41,213.01 L426.41,213.67 L426.42,214.34 L426.42,215.00 L426.43,215.67 L426.43,216.33 L426.44,217.00 L426.44,217.66 L426.45,218.32 L426.45,218.99 L426.46,219.65 L426.46,220.32 L426.47,220.98 L426.48,221.65 L426.49,222.31 L426.51,222.98 L426.55,223.64 L426.61,224.31 L426.67,224.97 L426.74,225.64 L426.81,226.30 L426.88,226.97 L426.95,227.63 L427.01,228.30 L427.07,228.96 L427.13,229.62 L427.20,230.29 L427.27,230.95 L427.34,231.62 L427.40,232.28 L427.46,232.95 L427.52,233.61 L427.56,234.28 L427.60,234.94 L427.62,235.61 L427.63,236.27 L427.64,236.94 L427.65,237.60 L427.65,238.27 L427.66,238.93 L427.66,239.59 L427.67,240.26 L427.67,240.92 L427.68,241.59 L427.68,242.25 L427.68,242.92 L427.68,243.58 L427.68,244.25 L427.68,244.91 L427.67,245.58 L427.67,246.24 L427.66,246.91 L427.65,247.57 L427.64,248.24 L427.63,248.90 L427.61,249.57 L427.60,250.23 L427.58,250.89 L427.56,251.56 L427.52,252.22 L427.46,252.89 L427.39,253.55 L427.32,254.22 L427.23,254.88 L427.14,255.55 L427.05,256.21 L426.94,256.88 L426.81,257.54 L426.67,258.21 L426.51,258.87 L426.33,259.54 L426.12,260.20 L425.88,260.20 L425.67,259.54 L425.49,258.87 L425.33,258.21 L425.19,257.54 L425.06,256.88 L424.95,256.21 L424.86,255.55 L424.77,254.88 L424.68,254.22 L424.61,253.55 L424.54,252.89 L424.48,252.22 L424.44,251.56 L424.42,250.89 L424.40,250.23 L424.39,249.57 L424.37,248.90 L424.36,248.24 L424.35,247.57 L424.34,246.91 L424.33,246.24 L424.33,245.58 L424.32,244.91 L424.32,244.25 L424.32,243.58 L424.32,242.92 L424.32,242.25 L424.32,241.59 L424.33,240.92 L424.33,240.26 L424.34,239.59 L424.34,238.93 L424.35,238.27 L424.35,237.60 L424.36,236.94 L424.37,236.27 L424.38,235.61 L424.40,234.94 L424.44,234.28 L424.48,233.61 L424.54,232.95 L424.60,232.28 L424.66,231.62 L424.73,230.95 L424.80,230.29 L424.87,229.62 L424.93,228.96 L424.99,228.30 L425.05,227.63 L425.12,226.97 L425.19,226.30 L425.26,225.64 L425.33,224.97 L425.39,224.31 L425.45,223.64 L425.49,222.98 L425.51,222.31 L425.52,221.65 L425.53,220.98 L425.54,220.32 L425.54,219.65 L425.55,218.99 L425.55,218.32 L425.56,217.66 L425.56,217.00 L425.57,216.33 L425.57,215.67 L425.58,215.00 L425.58,214.34 L425.59,213.67 L425.59,213.01 L425.59,212.34 L425.60,211.68 L425.60,211.01 L425.60,210.35 L425.60,209.68 L425.61,209.02 L425.61,208.35 L425.61,207.69 L425.61,207.03 L425.61,206.36 L425.61,205.70 L425.62,205.03 L425.62,204.37 L425.62,203.70 L425.62,203.04 L425.62,202.37 L425.62,201.71 L425.62,201.04 L425.62,200.38 L425.62,199.71 L425.62,199.05 L425.62,198.38 L425.62,197.72 L425.62,197.05 L425.62,196.39 L425.61,195.73 L425.61,195.06 L425.61,194.40 L425.61,193.73 L425.60,193.07 L425.60,192.40 L425.60,191.74 L425.60,191.07 L425.59,190.41 L425.59,189.74 L425.58,189.08 L425.58,188.41 L425.57,187.75 L425.57,187.08 L425.56,186.42 L425.56,185.76 L425.55,185.09 L425.54,184.43 L425.54,183.76 L425.53,183.10 L425.52,182.43 L425.52,181.77 L425.51,181.10 L425.50,180.44 L425.49,179.77 L425.49,179.11 L425.48,178.44 L425.47,177.78 L425.46,177.11 L425.45,176.45 L425.44,175.78 L425.43,175.12 L425.42,174.46 L425.41,173.79 L425.40,173.13 L425.39,172.46 L425.38,171.80 L425.37,171.13 L425.36,170.47 L425.34,169.80 L425.33,169.14 L425.32,168.47 L425.30,167.81 L425.29,167.14 L425.26,166.48 L425.24,165.81 L425.20,165.15 L425.17,164.49 L425.13,163.82 L425.09,163.16 L425.05,162.49 L425.01,161.83 L424.96,161.16 L424.91,160.50 L424.86,159.83 L424.81,159.17 L424.75,158.50 L424.67,157.84 L424.59,157.17 L424.50,156.51 L424.40,155.84 L424.30,155.18 L424.19,154.52 L424.08,153.85 L423.97,153.19 L423.87,152.52 L423.77,151.86 L423.67,151.19 L423.58,150.53 L423.50,149.86 L423.43,149.20 L423.37,148.53 L423.30,147.87 L423.24,147.20 L423.17,146.54 L423.11,145.87 L423.04,145.21 L422.97,144.54 L422.90,143.88 L422.84,143.22 L422.77,142.55 L422.70,141.89 L422.63,141.22 L422.56,140.56 L422.49,139.89 L422.42,139.23 L422.36,138.56 L422.29,137.90 L422.23,137.23 L422.16,136.57 L422.10,135.90 L422.04,135.24 L421.98,134.57 L421.93,133.91 L421.87,133.25 L421.82,132.58 L421.77,131.92 L421.72,131.25 L421.67,130.59 L421.62,129.92 L421.57,129.26 L421.52,128.59 L421.46,127.93 L421.41,127.26 L421.36,126.60 L421.30,125.93 L421.24,125.27 L421.18,124.60 L421.12,123.94 L421.06,123.27 L421.00,122.61 L420.94,121.95 L420.87,121.28 L420.80,120.62 L420.74,119.95 L420.67,119.29 L420.60,118.62 L420.52,117.96 L420.45,117.29 L420.37,116.63 L420.29,115.96 L420.21,115.30 L420.12,114.63 L420.02,113.97 L419.92,113.30 L419.81,112.64 L419.70,111.98 L419.58,111.31 L419.47,110.65 L419.35,109.98 L419.24,109.32 L419.13,108.65 L419.03,107.99 L418.93,107.32 L418.84,106.66 L418.75,105.99 L418.66,105.33 L418.56,104.66 L418.47,104.00 L418.38,103.33 L418.30,102.67 L418.22,102.00 L418.17,101.34 L418.13,100.68 L418.12,100.01 L418.12,99.35 L418.13,98.68 L418.15,98.02 L418.17,97.35 L418.19,96.69 L418.22,96.02 L418.27,95.36 L418.36,94.69 L418.48,94.03 L418.63,93.36 L418.80,92.70 L418.98,92.03 L419.15,91.37 L419.32,90.71 L419.49,90.04 L419.67,89.38 L419.86,88.71 L420.05,88.05 L420.26,87.38 L420.46,86.72 L420.67,86.05 L420.89,85.39 L421.10,84.72 L421.30,84.06 L421.51,83.39 L421.72,82.73 L421.93,82.06 L422.14,81.40 L422.35,80.73 L422.56,80.07 L422.77,79.41 L422.98,78.74 L423.19,78.08 L423.40,77.41 L423.61,76.75 L423.82,76.08 L424.02,75.42 L424.21,74.75 L424.40,74.09 L424.57,73.42 L424.73,72.76 L424.89,72.09 L425.04,71.43 L425.19,70.76 L425.32,70.10 Z" fill="#fbd3e5" stroke="#555555" stroke-width="1.25" stroke-linejoin="round"/>
<circle cx="426.0" cy="78.70" r="1.75" fill="#505050"/>
<circle cx="426.0" cy="80.50" r="1.75" fill="#505050"/>
<circle cx="426.0" cy="82.30" r="1.75" fill="#505050"/>
<circle cx="426.0" cy="84.10" r="1.75" fill="#505050"/>
<circle cx="426.0" cy="88.40" r="1.75" fill="#505050"/>
<circle cx="426.0" cy="93.40" r="1.75" fill="#505050"/>
<circle cx="426.0" cy="94.83" r="1.75" fill="#505050"/>
<circle cx="426.0" cy="96.26" r="1.75" fill="#505050"/>
<circle cx="426.0" cy="97.69" r="1.75" fill="#505050"/>
<circle cx="426.0" cy="99.11" r="1.75" fill="#505050"/>
<circle cx="426.0" cy="100.54" r="1.75" fill="#505050"/>
<circle cx="426.0" cy="101.97" r="1.75" fill="#505050"/>
<circle cx="426.0" cy="103.40" r="1.75" fill="#505050"/>
<circle cx="426.0" cy="108.00" r="1.75" fill="#505050"/>
<circle cx="426.0" cy="109.43" r="1.75" fill="#505050"/>
<circle cx="426.0" cy="110.87" r="1.75" fill="#505050"/>
<circle cx="426.0" cy="112.30" r="1.75" fill="#505050"/>
<circle cx="426.0" cy="113.73" r="1.75" fill="#505050"/>
<circle cx="426.0" cy="115.17" r="1.75" fill="#505050"/>
<circle cx="426.0" cy="116.60" r="1.75" fill="#505050"/>
<circle cx="426.0" cy="123.50" r="1.75" fill="#505050"/>
<circle cx="426.0" cy="128.50" r="1.75" fill="#505050"/>
<circle cx="426.0" cy="132.00" r="1.75" fill="#505050"/>
<circle cx="426.0" cy="133.53" r="1.75" fill="#505050"/>
<circle cx="426.0" cy="135.05" r="1.75" fill="#505050"/>
<circle cx="426.0" cy="136.57" r="1.75" fill="#505050"/>
<circle cx="426.0" cy="138.10" r="1.75" fill="#505050"/>
<circle cx="426.0" cy="145.10" r="1.75" fill="#505050"/>
<circle cx="426.0" cy="148.20" r="1.75" fill="#505050"/>
<circle cx="426.0" cy="157.00" r="1.75" fill="#505050"/>
<circle cx="426.0" cy="190.20" r="1.75" fill="#505050"/>
<circle cx="426.0" cy="226.10" r="1.75" fill="#505050"/>
<circle cx="426.0" cy="241.80" r="1.75" fill="#505050"/>
<circle cx="426.0" cy="249.30" r="1.75" fill="#505050"/>
<text transform="translate(45.5,254.35) scale(0.95,1)" font-family="Liberation Sans, Arial, sans-serif" font-size="13.6" fill="#262626" stroke="#262626" stroke-width="0.2" text-anchor="end">0</text>
<text transform="translate(45.5,210.61) scale(0.95,1)" font-family="Liberation Sans, Arial, sans-serif" font-size="13.6" fill="#262626" stroke="#262626" stroke-width="0.2" text-anchor="end">20</text>
<text transform="translate(45.5,166.87) scale(0.95,1)" font-family="Liberation Sans, Arial, sans-serif" font-size="13.6" fill="#262626" stroke="#262626" stroke-width="0.2" text-anchor="end">40</text>
<text transform="translate(45.5,123.13) scale(0.95,1)" font-family="Liberation Sans, Arial, sans-serif" font-size="13.6" fill="#262626" stroke="#262626" stroke-width="0.2" text-anchor="end">60</text>
<text transform="translate(45.5,79.39) scale(0.95,1)" font-family="Liberation Sans, Arial, sans-serif" font-size="13.6" fill="#262626" stroke="#262626" stroke-width="0.2" text-anchor="end">80</text>
<text transform="translate(45.5,35.65) scale(0.95,1)" font-family="Liberation Sans, Arial, sans-serif" font-size="13.6" fill="#262626" stroke="#262626" stroke-width="0.2" text-anchor="end"><tspan font-family="IPAGothic, Liberation Sans, sans-serif" font-size="14" dy="0.72" dx="-0.4">1</tspan><tspan dy="-0.72">00</tspan></text>
<text transform="translate(81.50,295.5) scale(0.955,1)" font-family="Liberation Sans, Arial, sans-serif" font-size="13.6" fill="#262626" stroke="#262626" stroke-width="0.2" text-anchor="middle">ALogP</text>
<text transform="translate(130.70,295.5) scale(0.955,1)" font-family="Liberation Sans, Arial, sans-serif" font-size="13.6" fill="#262626" stroke="#262626" stroke-width="0.2" text-anchor="middle">CDK</text>
<text transform="translate(179.90,295.5) scale(0.955,1)" font-family="Liberation Sans, Arial, sans-serif" font-size="13.6" fill="#262626" stroke="#262626" stroke-width="0.2" text-anchor="middle">ECFC4</text>
<text transform="translate(229.20,295.5) scale(0.955,1)" font-family="Liberation Sans, Arial, sans-serif" font-size="13.6" fill="#262626" stroke="#262626" stroke-width="0.2" text-anchor="middle">ECFP4</text>
<text transform="translate(278.40,295.5) scale(0.955,1)" font-family="Liberation Sans, Arial, sans-serif" font-size="13.6" fill="#262626" stroke="#262626" stroke-width="0.2" text-anchor="middle">EPFP4</text>
<text transform="translate(327.60,295.5) scale(0.955,1)" font-family="Liberation Sans, Arial, sans-serif" font-size="13.6" fill="#262626" stroke="#262626" stroke-width="0.2" text-anchor="middle">Graph</text>
<text transform="translate(376.80,295.5) scale(0.955,1)" font-family="Liberation Sans, Arial, sans-serif" font-size="13.6" fill="#262626" stroke="#262626" stroke-width="0.2" text-anchor="middle">MDL</text>
<text transform="translate(426.00,295.5) scale(0.955,1)" font-family="Liberation Sans, Arial, sans-serif" font-size="13.6" fill="#262626" stroke="#262626" stroke-width="0.2" text-anchor="middle">Pubchem</text>
<text x="253.8" y="314.4" font-family="Liberation Sans, Arial, sans-serif" font-size="14" fill="#262626" stroke="#262626" stroke-width="0.2" text-anchor="middle">Fingerprints</text>
<text transform="translate(15.9,141.1) rotate(-90)" x="0" y="0" font-family="Liberation Sans, Arial, sans-serif" font-size="13.66" fill="#262626" stroke="#262626" stroke-width="0.2" text-anchor="middle" textLength="175.6" lengthAdjust="spacingAndGlyphs">Prediction accuracy values</text>
<defs><marker id="ah" viewBox="0 0 10 10" refX="9" refY="5" markerWidth="5.2" markerHeight="4.8" preserveAspectRatio="none" orient="auto-start-reverse" markerUnits="userSpaceOnUse"><path d="M0,0 L10,5 L0,10 z" fill="#ff0000"/></marker></defs>
<line x1="471.5" y1="63.2" x2="434.0" y2="94.8" stroke="#ff4a4a" stroke-width="0.75" marker-end="url(#ah)"/>
<line x1="474.2" y1="161.4" x2="427.8" y2="163.9" stroke="#ff4a4a" stroke-width="0.75" marker-end="url(#ah)"/>
<line x1="469.5" y1="215.5" x2="380.1" y2="241.3" stroke="#ff4a4a" stroke-width="0.75" marker-end="url(#ah)"/>
<line x1="372" y1="245.8" x2="381" y2="245.8" stroke="#ff0000" stroke-width="1.9"/>
<path d="M368.8,245.8 L373.3,243.1 L373.3,248.5 Z M384.1,245.8 L379.6,243.1 L379.6,248.5 Z" fill="#ff0000"/>
<text x="474.4" y="58.8" font-family="Liberation Sans, Carlito, sans-serif" font-size="8.6" fill="#111" stroke="#111" stroke-width="0.25" textLength="45.1" lengthAdjust="spacingAndGlyphs">High Density</text>
<text x="480.5" y="163.6" font-family="Liberation Sans, Carlito, sans-serif" font-size="8.6" fill="#111" stroke="#111" stroke-width="0.25" textLength="43.0" lengthAdjust="spacingAndGlyphs">Low Density</text>
<text x="474.6" y="211" font-family="Liberation Serif, Times New Roman, serif" font-size="10.3" fill="#111" stroke="#111" stroke-width="0.15" textLength="46.9" lengthAdjust="spacingAndGlyphs">Density plot</text>
<text x="474.6" y="222" font-family="Liberation Serif, Times New Roman, serif" font-size="10.3" fill="#111" stroke="#111" stroke-width="0.15" textLength="67.9" lengthAdjust="spacingAndGlyphs">width=Frequency</text>
<rect x="461.3" y="318" width="1.3" height="2.6" fill="#aaa"/>
</svg></body></html>
